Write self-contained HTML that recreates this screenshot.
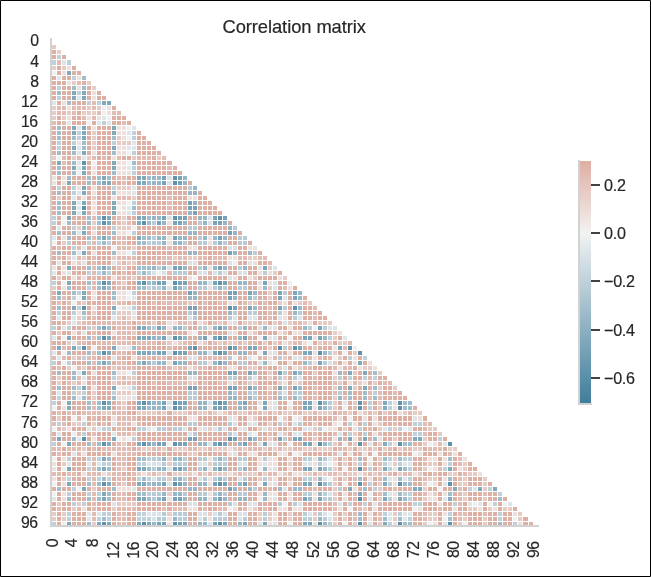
<!DOCTYPE html>
<html lang="en">
<head>
<meta charset="utf-8">
<title>Correlation matrix</title>
<style>
html,body{margin:0;padding:0;background:#fff;}
body{width:651px;height:577px;overflow:hidden;}
svg{display:block;}
text{font-family:"Liberation Sans",Arial,Helvetica,sans-serif;fill:#262626;stroke:#262626;stroke-width:0.18px;stroke-linejoin:round;}
.tick text{font-size:16.67px;letter-spacing:-0.5px;}
.title{font-size:18.33px;letter-spacing:-0.07px;}
</style>
</head>
<body>
<svg width="651" height="577" viewBox="0 0 651 577">
<defs>
<linearGradient id="cbg" x1="0" y1="0" x2="0" y2="1">
<stop offset="0.0000" stop-color="#deafa3"/>
<stop offset="0.0250" stop-color="#e0b4a9"/>
<stop offset="0.0500" stop-color="#e2bab0"/>
<stop offset="0.0750" stop-color="#e3c0b7"/>
<stop offset="0.1000" stop-color="#e5c5bd"/>
<stop offset="0.1250" stop-color="#e7cbc4"/>
<stop offset="0.1500" stop-color="#e8d0ca"/>
<stop offset="0.1750" stop-color="#ead6d1"/>
<stop offset="0.2000" stop-color="#ecdbd7"/>
<stop offset="0.2250" stop-color="#eee1de"/>
<stop offset="0.2500" stop-color="#efe7e5"/>
<stop offset="0.2750" stop-color="#f1eceb"/>
<stop offset="0.3000" stop-color="#f1f2f2"/>
<stop offset="0.3250" stop-color="#eaeef0"/>
<stop offset="0.3500" stop-color="#e3e9ec"/>
<stop offset="0.3750" stop-color="#dee6ea"/>
<stop offset="0.4000" stop-color="#d7e1e6"/>
<stop offset="0.4250" stop-color="#d1dde4"/>
<stop offset="0.4500" stop-color="#cbd9e0"/>
<stop offset="0.4750" stop-color="#c4d4dd"/>
<stop offset="0.5000" stop-color="#bed1da"/>
<stop offset="0.5250" stop-color="#b7ccd7"/>
<stop offset="0.5500" stop-color="#b2c9d4"/>
<stop offset="0.5750" stop-color="#abc4d0"/>
<stop offset="0.6000" stop-color="#a5c1ce"/>
<stop offset="0.6250" stop-color="#9ebcca"/>
<stop offset="0.6500" stop-color="#97b7c7"/>
<stop offset="0.6750" stop-color="#91b3c4"/>
<stop offset="0.7000" stop-color="#8aafc0"/>
<stop offset="0.7250" stop-color="#85abbe"/>
<stop offset="0.7500" stop-color="#7ea7ba"/>
<stop offset="0.7750" stop-color="#79a3b8"/>
<stop offset="0.8000" stop-color="#729fb4"/>
<stop offset="0.8250" stop-color="#6b9ab1"/>
<stop offset="0.8500" stop-color="#6596ae"/>
<stop offset="0.8750" stop-color="#5e92ab"/>
<stop offset="0.9000" stop-color="#598ea8"/>
<stop offset="0.9250" stop-color="#528aa5"/>
<stop offset="0.9500" stop-color="#4c86a2"/>
<stop offset="0.9750" stop-color="#46829e"/>
<stop offset="1.0000" stop-color="#407e9c"/>
</linearGradient>
</defs>
<rect x="0" y="0" width="651" height="577" fill="#fff"/>
<text class="title" x="294.2" y="33.0" text-anchor="middle">Correlation matrix</text>
<g shape-rendering="crispEdges">
<path fill="#e7ccc6" d="M52 45h4v4h-4zM57 50h4v4h-4zM52 66h4v4h-4zM62 66h4v4h-4zM72 81h4v4h-4zM87 81h4v4h-4zM92 86h4v4h-4zM52 106h4v4h-4zM87 106h4v4h-4zM97 106h4v4h-4zM52 111h4v4h-4zM67 111h4v4h-4zM82 111h4v4h-4zM87 111h4v4h-4zM92 111h4v4h-4zM52 116h4v4h-4zM62 116h4v4h-4zM92 131h4v4h-4zM92 136h4v4h-4zM117 136h4v4h-4zM92 141h4v4h-4zM117 141h4v4h-4zM122 141h4v4h-4zM127 141h4v4h-4zM92 146h4v4h-4zM52 156h4v4h-4zM72 156h4v4h-4zM87 156h4v4h-4zM132 156h4v4h-4zM157 156h4v4h-4zM117 186h4v4h-4zM122 186h4v4h-4zM127 186h4v4h-4zM57 196h4v4h-4zM92 196h4v4h-4zM132 196h4v4h-4zM122 216h4v4h-4zM92 221h4v4h-4zM122 221h4v4h-4zM77 226h4v4h-4zM92 226h4v4h-4zM117 226h4v4h-4zM122 226h4v4h-4zM127 226h4v4h-4zM62 241h4v4h-4zM132 246h4v4h-4zM67 256h4v4h-4zM82 256h4v4h-4zM112 256h4v4h-4zM173 256h4v4h-4zM188 256h4v4h-4zM193 256h4v4h-4zM248 256h4v4h-4zM253 256h4v4h-4zM77 261h4v4h-4zM117 261h4v4h-4zM127 261h4v4h-4zM132 261h4v4h-4zM122 266h4v4h-4zM268 266h4v4h-4zM273 271h4v4h-4zM57 276h4v4h-4zM132 276h4v4h-4zM253 276h4v4h-4zM283 276h4v4h-4zM122 281h4v4h-4zM52 286h4v4h-4zM268 286h4v4h-4zM268 291h4v4h-4zM268 296h4v4h-4zM82 301h4v4h-4zM112 301h4v4h-4zM188 301h4v4h-4zM193 301h4v4h-4zM248 301h4v4h-4zM253 301h4v4h-4zM278 301h4v4h-4zM298 301h4v4h-4zM308 301h4v4h-4zM92 311h4v4h-4zM117 311h4v4h-4zM122 311h4v4h-4zM127 311h4v4h-4zM77 316h4v4h-4zM117 316h4v4h-4zM127 316h4v4h-4zM67 321h4v4h-4zM77 321h4v4h-4zM152 321h4v4h-4zM188 321h4v4h-4zM203 321h4v4h-4zM218 321h4v4h-4zM243 321h4v4h-4zM248 321h4v4h-4zM253 321h4v4h-4zM263 321h4v4h-4zM273 321h4v4h-4zM288 321h4v4h-4zM303 321h4v4h-4zM318 321h4v4h-4zM323 321h4v4h-4zM328 321h4v4h-4zM92 326h4v4h-4zM57 331h4v4h-4zM132 331h4v4h-4zM253 331h4v4h-4zM283 331h4v4h-4zM333 331h4v4h-4zM333 336h4v4h-4zM67 341h4v4h-4zM167 341h5v4h-5zM178 341h4v4h-4zM203 341h4v4h-4zM218 341h4v4h-4zM228 341h4v4h-4zM233 341h4v4h-4zM243 341h4v4h-4zM263 341h4v4h-4zM273 341h4v4h-4zM288 341h4v4h-4zM318 341h4v4h-4zM328 341h4v4h-4zM338 341h4v4h-4zM343 341h4v4h-4zM268 346h4v4h-4zM313 346h4v4h-4zM333 351h4v4h-4zM353 351h4v4h-4zM72 356h4v4h-4zM283 356h4v4h-4zM338 356h4v4h-4zM333 361h4v4h-4zM67 366h4v4h-4zM82 366h4v4h-4zM112 366h4v4h-4zM173 366h4v4h-4zM193 366h4v4h-4zM248 366h4v4h-4zM253 366h4v4h-4zM278 366h4v4h-4zM298 366h4v4h-4zM363 366h4v4h-4zM368 366h4v4h-4zM268 371h4v4h-4zM313 371h4v4h-4zM353 371h4v4h-4zM378 371h4v4h-4zM57 376h4v4h-4zM117 376h4v4h-4zM127 376h4v4h-4zM132 376h4v4h-4zM268 376h4v4h-4zM283 376h4v4h-4zM333 376h4v4h-4zM57 381h4v4h-4zM72 381h4v4h-4zM112 381h4v4h-4zM188 381h4v4h-4zM193 381h4v4h-4zM233 381h4v4h-4zM248 381h4v4h-4zM253 381h4v4h-4zM278 381h4v4h-4zM298 381h4v4h-4zM338 381h4v4h-4zM358 381h4v4h-4zM373 381h4v4h-4zM268 386h4v4h-4zM333 386h4v4h-4zM353 386h4v4h-4zM378 386h4v4h-4zM393 386h4v4h-4zM77 391h4v4h-4zM92 391h4v4h-4zM117 391h4v4h-4zM122 391h4v4h-4zM127 391h4v4h-4zM92 396h4v4h-4zM333 396h4v4h-4zM122 401h4v4h-4zM333 401h4v4h-4zM353 401h4v4h-4zM378 401h4v4h-4zM122 406h4v4h-4zM333 406h4v4h-4zM378 406h4v4h-4zM102 411h4v4h-4zM107 411h4v4h-4zM137 411h4v4h-4zM142 411h4v4h-4zM147 411h4v4h-4zM152 411h4v4h-4zM162 411h4v4h-4zM173 411h4v4h-4zM178 411h4v4h-4zM183 411h4v4h-4zM198 411h4v4h-4zM203 411h4v4h-4zM213 411h4v4h-4zM223 411h4v4h-4zM238 411h4v4h-4zM243 411h4v4h-4zM263 411h4v4h-4zM273 411h4v4h-4zM283 411h4v4h-4zM288 411h4v4h-4zM303 411h4v4h-4zM308 411h4v4h-4zM318 411h4v4h-4zM323 411h4v4h-4zM328 411h4v4h-4zM348 411h4v4h-4zM363 411h4v4h-4zM373 411h4v4h-4zM383 411h4v4h-4zM403 411h4v4h-4zM413 411h4v4h-4zM418 411h4v4h-4zM57 416h4v5h-4zM253 416h4v5h-4zM283 416h4v5h-4zM72 422h4v4h-4zM77 422h4v4h-4zM92 422h4v4h-4zM268 422h4v4h-4zM283 422h4v4h-4zM313 422h4v4h-4zM378 422h4v4h-4zM62 427h4v4h-4zM92 427h4v4h-4zM208 427h4v4h-4zM258 427h4v4h-4zM268 427h4v4h-4zM273 427h4v4h-4zM288 427h4v4h-4zM313 427h4v4h-4zM343 427h4v4h-4zM378 427h4v4h-4zM393 427h4v4h-4zM428 427h4v4h-4zM433 427h4v4h-4zM132 432h4v4h-4zM283 432h4v4h-4zM353 432h4v4h-4zM438 432h4v4h-4zM268 437h4v4h-4zM313 437h4v4h-4zM393 437h4v4h-4zM423 437h4v4h-4zM122 442h4v4h-4zM333 442h4v4h-4zM353 442h4v4h-4zM378 442h4v4h-4zM423 442h4v4h-4zM82 447h4v4h-4zM142 447h4v4h-4zM147 447h4v4h-4zM162 447h4v4h-4zM173 447h4v4h-4zM178 447h4v4h-4zM183 447h4v4h-4zM198 447h4v4h-4zM203 447h4v4h-4zM213 447h4v4h-4zM218 447h4v4h-4zM223 447h4v4h-4zM233 447h4v4h-4zM243 447h4v4h-4zM263 447h4v4h-4zM273 447h4v4h-4zM283 447h4v4h-4zM288 447h4v4h-4zM303 447h4v4h-4zM308 447h4v4h-4zM318 447h4v4h-4zM323 447h4v4h-4zM328 447h4v4h-4zM348 447h4v4h-4zM358 447h4v4h-4zM363 447h4v4h-4zM373 447h4v4h-4zM383 447h4v4h-4zM398 447h4v4h-4zM413 447h4v4h-4zM418 447h4v4h-4zM448 447h4v4h-4zM453 447h4v4h-4zM188 452h4v4h-4zM193 452h4v4h-4zM167 457h5v4h-5zM333 457h4v4h-4zM343 457h4v4h-4zM353 457h4v4h-4zM378 457h4v4h-4zM393 457h4v4h-4zM62 462h4v4h-4zM167 462h5v4h-5zM208 462h4v4h-4zM288 462h4v4h-4zM343 462h4v4h-4zM353 462h4v4h-4zM393 462h4v4h-4zM428 462h4v4h-4zM433 462h4v4h-4zM463 462h4v4h-4zM122 467h4v4h-4zM333 467h4v4h-4zM378 467h4v4h-4zM423 467h4v4h-4zM463 467h4v4h-4zM107 472h4v4h-4zM137 472h4v4h-4zM147 472h4v4h-4zM157 472h4v4h-4zM162 472h4v4h-4zM173 472h4v4h-4zM178 472h4v4h-4zM183 472h4v4h-4zM188 472h4v4h-4zM203 472h4v4h-4zM213 472h4v4h-4zM218 472h4v4h-4zM223 472h4v4h-4zM233 472h4v4h-4zM243 472h4v4h-4zM248 472h4v4h-4zM253 472h4v4h-4zM263 472h4v4h-4zM283 472h4v4h-4zM303 472h4v4h-4zM308 472h4v4h-4zM318 472h4v4h-4zM323 472h4v4h-4zM338 472h4v4h-4zM348 472h4v4h-4zM353 472h4v4h-4zM363 472h4v4h-4zM373 472h4v4h-4zM383 472h4v4h-4zM398 472h4v4h-4zM418 472h4v4h-4zM448 472h4v4h-4zM453 472h4v4h-4zM468 472h4v4h-4zM473 472h4v4h-4zM62 477h4v4h-4zM167 477h5v4h-5zM258 477h4v4h-4zM268 477h4v4h-4zM288 477h4v4h-4zM313 477h4v4h-4zM333 477h4v4h-4zM343 477h4v4h-4zM428 477h4v4h-4zM433 477h4v4h-4zM463 477h4v4h-4zM483 477h4v4h-4zM122 482h4v4h-4zM333 482h4v4h-4zM378 482h4v4h-4zM423 482h4v4h-4zM458 482h4v4h-4zM463 482h4v4h-4zM483 482h4v4h-4zM92 487h4v4h-4zM333 487h4v4h-4zM378 487h4v4h-4zM423 487h4v4h-4zM483 487h4v4h-4zM167 492h5v4h-5zM333 492h4v4h-4zM433 492h4v4h-4zM463 492h4v4h-4zM333 497h4v4h-4zM378 497h4v4h-4zM423 497h4v4h-4zM463 497h4v4h-4zM483 497h4v4h-4zM57 502h4v4h-4zM77 502h4v4h-4zM117 502h4v4h-4zM122 502h4v4h-4zM127 502h4v4h-4zM132 502h4v4h-4zM72 507h4v4h-4zM112 507h4v4h-4zM253 507h4v4h-4zM363 507h4v4h-4zM468 507h4v4h-4zM473 507h4v4h-4zM488 507h4v4h-4zM503 507h4v4h-4zM508 507h4v4h-4zM52 512h4v4h-4zM62 512h4v4h-4zM167 512h5v4h-5zM208 512h4v4h-4zM258 512h4v4h-4zM268 512h4v4h-4zM288 512h4v4h-4zM313 512h4v4h-4zM333 512h4v4h-4zM343 512h4v4h-4zM393 512h4v4h-4zM428 512h4v4h-4zM433 512h4v4h-4zM518 512h4v4h-4zM52 517h4v4h-4zM62 517h4v4h-4zM258 517h4v4h-4zM268 517h4v4h-4zM288 517h4v4h-4zM313 517h4v4h-4zM333 517h4v4h-4zM343 517h4v4h-4zM393 517h4v4h-4zM428 517h4v4h-4zM433 517h4v4h-4zM463 517h4v4h-4zM483 517h4v4h-4zM518 517h4v4h-4zM92 522h4v3h-4zM333 522h4v3h-4zM353 522h4v3h-4zM378 522h4v3h-4zM423 522h4v3h-4zM458 522h4v3h-4zM483 522h4v3h-4z"/>
<path fill="#deafa3" d="M52 50h4v4h-4zM52 55h4v4h-4zM62 55h4v4h-4zM57 66h4v4h-4zM72 66h4v4h-4zM57 71h4v4h-4zM72 71h4v4h-4zM77 71h4v4h-4zM52 76h4v4h-4zM62 76h4v4h-4zM67 76h4v4h-4zM52 81h4v4h-4zM57 81h4v4h-4zM62 81h4v4h-4zM82 81h4v4h-4zM52 86h4v4h-4zM62 86h4v4h-4zM67 86h4v4h-4zM87 86h4v4h-4zM52 91h4v4h-4zM62 91h4v4h-4zM67 91h4v4h-4zM87 91h4v4h-4zM97 91h4v4h-4zM52 96h4v4h-4zM62 96h4v4h-4zM67 96h4v4h-4zM87 96h4v4h-4zM97 96h4v4h-4zM102 96h4v4h-4zM57 101h4v4h-4zM72 101h4v4h-4zM77 101h4v4h-4zM82 101h4v4h-4zM112 106h4v4h-4zM77 111h4v4h-4zM57 116h4v4h-4zM72 116h4v4h-4zM77 116h4v4h-4zM112 116h4v4h-4zM117 116h4v4h-4zM122 116h4v4h-4zM57 121h4v4h-4zM72 121h4v4h-4zM77 121h4v4h-4zM82 121h4v4h-4zM92 121h4v4h-4zM112 121h4v4h-4zM117 121h4v4h-4zM127 121h4v4h-4zM52 126h4v4h-4zM62 126h4v4h-4zM67 126h4v4h-4zM87 126h4v4h-4zM97 126h4v4h-4zM102 126h4v4h-4zM107 126h4v4h-4zM52 131h4v4h-4zM62 131h4v4h-4zM67 131h4v4h-4zM87 131h4v4h-4zM97 131h4v4h-4zM102 131h4v4h-4zM107 131h4v4h-4zM137 131h4v4h-4zM52 136h4v4h-4zM62 136h4v4h-4zM67 136h4v4h-4zM87 136h4v4h-4zM97 136h4v4h-4zM102 136h4v4h-4zM107 136h4v4h-4zM137 136h4v4h-4zM142 136h4v4h-4zM52 141h4v4h-4zM62 141h4v4h-4zM67 141h4v4h-4zM87 141h4v4h-4zM97 141h4v4h-4zM102 141h4v4h-4zM107 141h4v4h-4zM137 141h4v4h-4zM142 141h4v4h-4zM147 141h4v4h-4zM52 146h4v4h-4zM62 146h4v4h-4zM67 146h4v4h-4zM87 146h4v4h-4zM97 146h4v4h-4zM102 146h4v4h-4zM107 146h4v4h-4zM137 146h4v4h-4zM142 146h4v4h-4zM147 146h4v4h-4zM152 146h4v4h-4zM52 151h4v4h-4zM62 151h4v4h-4zM67 151h4v4h-4zM87 151h4v4h-4zM97 151h4v4h-4zM102 151h4v4h-4zM107 151h4v4h-4zM137 151h4v4h-4zM142 151h4v4h-4zM147 151h4v4h-4zM152 151h4v4h-4zM157 151h4v4h-4zM67 156h4v4h-4zM97 156h4v4h-4zM107 156h4v4h-4zM122 156h4v4h-4zM127 156h4v4h-4zM152 156h4v4h-4zM52 161h4v4h-4zM67 161h4v4h-4zM87 161h4v4h-4zM97 161h4v4h-4zM102 161h4v4h-4zM107 161h4v4h-4zM137 161h4v4h-4zM142 161h4v4h-4zM147 161h4v4h-4zM152 161h4v4h-4zM157 161h4v4h-4zM162 161h4v4h-4zM167 161h5v4h-5zM52 166h4v4h-4zM62 166h4v4h-4zM67 166h4v4h-4zM87 166h4v4h-4zM97 166h4v4h-4zM102 166h4v4h-4zM107 166h4v4h-4zM137 166h4v4h-4zM142 166h4v4h-4zM147 166h4v4h-4zM152 166h4v4h-4zM157 166h4v4h-4zM162 166h4v4h-4zM173 166h4v4h-4zM52 171h4v4h-4zM62 171h4v4h-4zM67 171h4v4h-4zM87 171h4v4h-4zM97 171h4v4h-4zM102 171h4v4h-4zM107 171h4v4h-4zM137 171h4v4h-4zM142 171h4v4h-4zM147 171h4v4h-4zM152 171h4v4h-4zM157 171h4v4h-4zM162 171h4v4h-4zM167 171h5v4h-5zM173 171h4v4h-4zM178 171h4v4h-4zM57 176h4v4h-4zM72 176h4v4h-4zM77 176h4v4h-4zM82 176h4v4h-4zM92 176h4v4h-4zM112 176h4v4h-4zM127 176h4v4h-4zM132 176h4v4h-4zM57 181h4v4h-4zM72 181h4v4h-4zM77 181h4v4h-4zM82 181h4v4h-4zM92 181h4v4h-4zM112 181h4v4h-4zM117 181h4v4h-4zM127 181h4v4h-4zM132 181h4v4h-4zM188 181h4v4h-4zM52 186h4v4h-4zM62 186h4v4h-4zM67 186h4v4h-4zM87 186h4v4h-4zM97 186h4v4h-4zM102 186h4v4h-4zM107 186h4v4h-4zM137 186h4v4h-4zM142 186h4v4h-4zM147 186h4v4h-4zM152 186h4v4h-4zM157 186h4v4h-4zM162 186h4v4h-4zM167 186h5v4h-5zM173 186h4v4h-4zM178 186h4v4h-4zM183 186h4v4h-4zM52 191h4v4h-4zM62 191h4v4h-4zM67 191h4v4h-4zM87 191h4v4h-4zM97 191h4v4h-4zM102 191h4v4h-4zM107 191h4v4h-4zM137 191h4v4h-4zM142 191h4v4h-4zM147 191h4v4h-4zM152 191h4v4h-4zM157 191h4v4h-4zM162 191h4v4h-4zM167 191h5v4h-5zM173 191h4v4h-4zM178 191h4v4h-4zM183 191h4v4h-4zM198 191h4v4h-4zM52 196h4v4h-4zM62 196h4v4h-4zM67 196h4v4h-4zM87 196h4v4h-4zM97 196h4v4h-4zM102 196h4v4h-4zM107 196h4v4h-4zM137 196h4v4h-4zM142 196h4v4h-4zM147 196h4v4h-4zM152 196h4v4h-4zM157 196h4v4h-4zM162 196h4v4h-4zM173 196h4v4h-4zM178 196h4v4h-4zM183 196h4v4h-4zM198 196h4v4h-4zM203 196h4v4h-4zM52 201h4v4h-4zM62 201h4v4h-4zM67 201h4v4h-4zM87 201h4v4h-4zM97 201h4v4h-4zM102 201h4v4h-4zM107 201h4v4h-4zM137 201h4v4h-4zM142 201h4v4h-4zM147 201h4v4h-4zM152 201h4v4h-4zM157 201h4v4h-4zM162 201h4v4h-4zM173 201h4v4h-4zM178 201h4v4h-4zM183 201h4v4h-4zM198 201h4v4h-4zM203 201h4v4h-4zM208 201h4v4h-4zM52 206h4v4h-4zM62 206h4v4h-4zM67 206h4v4h-4zM87 206h4v4h-4zM97 206h4v4h-4zM102 206h4v4h-4zM107 206h4v4h-4zM137 206h4v4h-4zM142 206h4v4h-4zM147 206h4v4h-4zM152 206h4v4h-4zM157 206h4v4h-4zM162 206h4v4h-4zM173 206h4v4h-4zM178 206h4v4h-4zM183 206h4v4h-4zM198 206h4v4h-4zM203 206h4v4h-4zM208 206h4v4h-4zM213 206h4v4h-4zM52 211h4v4h-4zM62 211h4v4h-4zM67 211h4v4h-4zM87 211h4v4h-4zM97 211h4v4h-4zM102 211h4v4h-4zM107 211h4v4h-4zM137 211h4v4h-4zM142 211h4v4h-4zM147 211h4v4h-4zM152 211h4v4h-4zM157 211h4v4h-4zM162 211h4v4h-4zM167 211h5v4h-5zM173 211h4v4h-4zM178 211h4v4h-4zM183 211h4v4h-4zM198 211h4v4h-4zM203 211h4v4h-4zM208 211h4v4h-4zM213 211h4v4h-4zM218 211h4v4h-4zM57 216h4v4h-4zM72 216h4v4h-4zM77 216h4v4h-4zM82 216h4v4h-4zM112 216h4v4h-4zM127 216h4v4h-4zM132 216h4v4h-4zM188 216h4v4h-4zM193 216h4v4h-4zM57 221h4v4h-4zM72 221h4v4h-4zM77 221h4v4h-4zM82 221h4v4h-4zM112 221h4v4h-4zM132 221h4v4h-4zM188 221h4v4h-4zM193 221h4v4h-4zM228 221h4v4h-4zM52 226h4v4h-4zM62 226h4v4h-4zM67 226h4v4h-4zM87 226h4v4h-4zM97 226h4v4h-4zM102 226h4v4h-4zM107 226h4v4h-4zM137 226h4v4h-4zM142 226h4v4h-4zM147 226h4v4h-4zM152 226h4v4h-4zM157 226h4v4h-4zM162 226h4v4h-4zM167 226h5v4h-5zM173 226h4v4h-4zM178 226h4v4h-4zM183 226h4v4h-4zM198 226h4v4h-4zM203 226h4v4h-4zM208 226h4v4h-4zM213 226h4v4h-4zM218 226h4v4h-4zM223 226h4v4h-4zM52 231h4v4h-4zM62 231h4v4h-4zM67 231h4v4h-4zM87 231h4v4h-4zM97 231h4v4h-4zM102 231h4v4h-4zM107 231h4v4h-4zM137 231h4v4h-4zM142 231h4v4h-4zM147 231h4v4h-4zM152 231h4v4h-4zM157 231h4v4h-4zM162 231h4v4h-4zM167 231h5v4h-5zM173 231h4v4h-4zM178 231h4v4h-4zM183 231h4v4h-4zM198 231h4v4h-4zM203 231h4v4h-4zM208 231h4v4h-4zM213 231h4v4h-4zM218 231h4v4h-4zM223 231h4v4h-4zM238 231h4v4h-4zM57 236h4v4h-4zM72 236h4v4h-4zM77 236h4v4h-4zM82 236h4v4h-4zM112 236h4v4h-4zM127 236h4v4h-4zM132 236h4v4h-4zM188 236h4v4h-4zM193 236h4v4h-4zM228 236h4v4h-4zM233 236h4v4h-4zM57 241h4v4h-4zM72 241h4v4h-4zM77 241h4v4h-4zM82 241h4v4h-4zM112 241h4v4h-4zM127 241h4v4h-4zM132 241h4v4h-4zM188 241h4v4h-4zM193 241h4v4h-4zM228 241h4v4h-4zM233 241h4v4h-4zM248 241h4v4h-4zM52 246h4v4h-4zM62 246h4v4h-4zM67 246h4v4h-4zM87 246h4v4h-4zM97 246h4v4h-4zM102 246h4v4h-4zM107 246h4v4h-4zM137 246h4v4h-4zM142 246h4v4h-4zM147 246h4v4h-4zM152 246h4v4h-4zM157 246h4v4h-4zM162 246h4v4h-4zM173 246h4v4h-4zM178 246h4v4h-4zM183 246h4v4h-4zM198 246h4v4h-4zM203 246h4v4h-4zM208 246h4v4h-4zM213 246h4v4h-4zM218 246h4v4h-4zM223 246h4v4h-4zM238 246h4v4h-4zM243 246h4v4h-4zM52 251h4v4h-4zM62 251h4v4h-4zM67 251h4v4h-4zM87 251h4v4h-4zM97 251h4v4h-4zM102 251h4v4h-4zM107 251h4v4h-4zM137 251h4v4h-4zM142 251h4v4h-4zM147 251h4v4h-4zM152 251h4v4h-4zM157 251h4v4h-4zM162 251h4v4h-4zM167 251h5v4h-5zM173 251h4v4h-4zM178 251h4v4h-4zM183 251h4v4h-4zM198 251h4v4h-4zM203 251h4v4h-4zM208 251h4v4h-4zM213 251h4v4h-4zM218 251h4v4h-4zM223 251h4v4h-4zM238 251h4v4h-4zM243 251h4v4h-4zM258 251h4v4h-4zM52 256h4v4h-4zM62 256h4v4h-4zM87 256h4v4h-4zM97 256h4v4h-4zM102 256h4v4h-4zM107 256h4v4h-4zM137 256h4v4h-4zM142 256h4v4h-4zM147 256h4v4h-4zM152 256h4v4h-4zM157 256h4v4h-4zM208 256h4v4h-4zM52 261h4v4h-4zM62 261h4v4h-4zM67 261h4v4h-4zM87 261h4v4h-4zM97 261h4v4h-4zM102 261h4v4h-4zM107 261h4v4h-4zM137 261h4v4h-4zM142 261h4v4h-4zM147 261h4v4h-4zM152 261h4v4h-4zM157 261h4v4h-4zM162 261h4v4h-4zM167 261h5v4h-5zM173 261h4v4h-4zM178 261h4v4h-4zM183 261h4v4h-4zM198 261h4v4h-4zM203 261h4v4h-4zM208 261h4v4h-4zM213 261h4v4h-4zM218 261h4v4h-4zM223 261h4v4h-4zM238 261h4v4h-4zM243 261h4v4h-4zM258 261h4v4h-4zM263 261h4v4h-4zM57 266h4v4h-4zM72 266h4v4h-4zM77 266h4v4h-4zM82 266h4v4h-4zM112 266h4v4h-4zM127 266h4v4h-4zM132 266h4v4h-4zM188 266h4v4h-4zM193 266h4v4h-4zM228 266h4v4h-4zM233 266h4v4h-4zM248 266h4v4h-4zM253 266h4v4h-4zM57 271h4v4h-4zM72 271h4v4h-4zM77 271h4v4h-4zM82 271h4v4h-4zM112 271h4v4h-4zM117 271h4v4h-4zM127 271h4v4h-4zM132 271h4v4h-4zM188 271h4v4h-4zM193 271h4v4h-4zM228 271h4v4h-4zM233 271h4v4h-4zM248 271h4v4h-4zM253 271h4v4h-4zM278 271h4v4h-4zM52 276h4v4h-4zM62 276h4v4h-4zM67 276h4v4h-4zM87 276h4v4h-4zM97 276h4v4h-4zM102 276h4v4h-4zM107 276h4v4h-4zM137 276h4v4h-4zM142 276h4v4h-4zM147 276h4v4h-4zM152 276h4v4h-4zM157 276h4v4h-4zM162 276h4v4h-4zM167 276h5v4h-5zM173 276h4v4h-4zM178 276h4v4h-4zM183 276h4v4h-4zM198 276h4v4h-4zM203 276h4v4h-4zM208 276h4v4h-4zM213 276h4v4h-4zM218 276h4v4h-4zM223 276h4v4h-4zM238 276h4v4h-4zM243 276h4v4h-4zM258 276h4v4h-4zM263 276h4v4h-4zM268 276h4v4h-4zM273 276h4v4h-4zM57 281h4v4h-4zM72 281h4v4h-4zM77 281h4v4h-4zM82 281h4v4h-4zM112 281h4v4h-4zM127 281h4v4h-4zM132 281h4v4h-4zM188 281h4v4h-4zM193 281h4v4h-4zM228 281h4v4h-4zM233 281h4v4h-4zM248 281h4v4h-4zM253 281h4v4h-4zM278 281h4v4h-4zM283 281h4v4h-4zM57 286h4v4h-4zM72 286h4v4h-4zM77 286h4v4h-4zM82 286h4v4h-4zM112 286h4v4h-4zM127 286h4v4h-4zM132 286h4v4h-4zM188 286h4v4h-4zM193 286h4v4h-4zM228 286h4v4h-4zM233 286h4v4h-4zM248 286h4v4h-4zM253 286h4v4h-4zM278 286h4v4h-4zM293 286h4v4h-4zM52 291h4v4h-4zM62 291h4v4h-4zM67 291h4v4h-4zM87 291h4v4h-4zM97 291h4v4h-4zM102 291h4v4h-4zM107 291h4v4h-4zM137 291h4v4h-4zM142 291h4v4h-4zM147 291h4v4h-4zM152 291h4v4h-4zM157 291h4v4h-4zM162 291h4v4h-4zM167 291h5v4h-5zM173 291h4v4h-4zM178 291h4v4h-4zM183 291h4v4h-4zM198 291h4v4h-4zM203 291h4v4h-4zM208 291h4v4h-4zM213 291h4v4h-4zM218 291h4v4h-4zM223 291h4v4h-4zM238 291h4v4h-4zM243 291h4v4h-4zM258 291h4v4h-4zM263 291h4v4h-4zM273 291h4v4h-4zM288 291h4v4h-4zM52 296h4v4h-4zM67 296h4v4h-4zM87 296h4v4h-4zM97 296h4v4h-4zM102 296h4v4h-4zM107 296h4v4h-4zM137 296h4v4h-4zM142 296h4v4h-4zM147 296h4v4h-4zM152 296h4v4h-4zM157 296h4v4h-4zM162 296h4v4h-4zM167 296h5v4h-5zM173 296h4v4h-4zM178 296h4v4h-4zM183 296h4v4h-4zM198 296h4v4h-4zM203 296h4v4h-4zM208 296h4v4h-4zM213 296h4v4h-4zM218 296h4v4h-4zM223 296h4v4h-4zM238 296h4v4h-4zM243 296h4v4h-4zM258 296h4v4h-4zM263 296h4v4h-4zM273 296h4v4h-4zM288 296h4v4h-4zM303 296h4v4h-4zM52 301h4v4h-4zM62 301h4v4h-4zM87 301h4v4h-4zM92 301h4v4h-4zM97 301h4v4h-4zM102 301h4v4h-4zM107 301h4v4h-4zM127 301h4v4h-4zM137 301h4v4h-4zM142 301h4v4h-4zM147 301h4v4h-4zM157 301h4v4h-4zM198 301h4v4h-4zM208 301h4v4h-4zM213 301h4v4h-4zM238 301h4v4h-4zM258 301h4v4h-4zM268 301h4v4h-4zM273 301h4v4h-4zM288 301h4v4h-4zM52 306h4v4h-4zM62 306h4v4h-4zM67 306h4v4h-4zM87 306h4v4h-4zM97 306h4v4h-4zM102 306h4v4h-4zM107 306h4v4h-4zM137 306h4v4h-4zM142 306h4v4h-4zM147 306h4v4h-4zM152 306h4v4h-4zM157 306h4v4h-4zM162 306h4v4h-4zM167 306h5v4h-5zM173 306h4v4h-4zM178 306h4v4h-4zM183 306h4v4h-4zM198 306h4v4h-4zM203 306h4v4h-4zM208 306h4v4h-4zM213 306h4v4h-4zM218 306h4v4h-4zM223 306h4v4h-4zM238 306h4v4h-4zM243 306h4v4h-4zM258 306h4v4h-4zM263 306h4v4h-4zM273 306h4v4h-4zM288 306h4v4h-4zM303 306h4v4h-4zM308 306h4v4h-4zM52 311h4v4h-4zM62 311h4v4h-4zM67 311h4v4h-4zM87 311h4v4h-4zM97 311h4v4h-4zM102 311h4v4h-4zM107 311h4v4h-4zM137 311h4v4h-4zM142 311h4v4h-4zM147 311h4v4h-4zM152 311h4v4h-4zM157 311h4v4h-4zM162 311h4v4h-4zM167 311h5v4h-5zM173 311h4v4h-4zM178 311h4v4h-4zM183 311h4v4h-4zM198 311h4v4h-4zM203 311h4v4h-4zM208 311h4v4h-4zM213 311h4v4h-4zM218 311h4v4h-4zM223 311h4v4h-4zM238 311h4v4h-4zM243 311h4v4h-4zM258 311h4v4h-4zM263 311h4v4h-4zM273 311h4v4h-4zM288 311h4v4h-4zM303 311h4v4h-4zM308 311h4v4h-4zM318 311h4v4h-4zM52 316h4v4h-4zM62 316h4v4h-4zM67 316h4v4h-4zM87 316h4v4h-4zM97 316h4v4h-4zM102 316h4v4h-4zM107 316h4v4h-4zM137 316h4v4h-4zM142 316h4v4h-4zM147 316h4v4h-4zM152 316h4v4h-4zM157 316h4v4h-4zM162 316h4v4h-4zM167 316h5v4h-5zM173 316h4v4h-4zM178 316h4v4h-4zM183 316h4v4h-4zM198 316h4v4h-4zM203 316h4v4h-4zM208 316h4v4h-4zM213 316h4v4h-4zM218 316h4v4h-4zM223 316h4v4h-4zM238 316h4v4h-4zM243 316h4v4h-4zM258 316h4v4h-4zM263 316h4v4h-4zM273 316h4v4h-4zM288 316h4v4h-4zM303 316h4v4h-4zM308 316h4v4h-4zM318 316h4v4h-4zM323 316h4v4h-4zM52 321h4v4h-4zM57 321h4v4h-4zM92 321h4v4h-4zM132 321h4v4h-4zM157 321h4v4h-4zM193 321h4v4h-4zM208 321h4v4h-4zM238 321h4v4h-4zM268 321h4v4h-4zM313 321h4v4h-4zM57 326h4v4h-4zM72 326h4v4h-4zM77 326h4v4h-4zM82 326h4v4h-4zM112 326h4v4h-4zM132 326h4v4h-4zM188 326h4v4h-4zM193 326h4v4h-4zM228 326h4v4h-4zM233 326h4v4h-4zM248 326h4v4h-4zM253 326h4v4h-4zM278 326h4v4h-4zM283 326h4v4h-4zM293 326h4v4h-4zM298 326h4v4h-4zM52 331h4v4h-4zM62 331h4v4h-4zM67 331h4v4h-4zM87 331h4v4h-4zM97 331h4v4h-4zM102 331h4v4h-4zM107 331h4v4h-4zM137 331h4v4h-4zM142 331h4v4h-4zM147 331h4v4h-4zM152 331h4v4h-4zM157 331h4v4h-4zM162 331h4v4h-4zM167 331h5v4h-5zM173 331h4v4h-4zM178 331h4v4h-4zM183 331h4v4h-4zM198 331h4v4h-4zM203 331h4v4h-4zM208 331h4v4h-4zM213 331h4v4h-4zM218 331h4v4h-4zM223 331h4v4h-4zM238 331h4v4h-4zM243 331h4v4h-4zM258 331h4v4h-4zM263 331h4v4h-4zM268 331h4v4h-4zM273 331h4v4h-4zM288 331h4v4h-4zM303 331h4v4h-4zM308 331h4v4h-4zM313 331h4v4h-4zM318 331h4v4h-4zM323 331h4v4h-4zM328 331h4v4h-4zM57 336h4v4h-4zM72 336h4v4h-4zM77 336h4v4h-4zM82 336h4v4h-4zM112 336h4v4h-4zM127 336h4v4h-4zM132 336h4v4h-4zM188 336h4v4h-4zM193 336h4v4h-4zM228 336h4v4h-4zM233 336h4v4h-4zM248 336h4v4h-4zM253 336h4v4h-4zM278 336h4v4h-4zM283 336h4v4h-4zM293 336h4v4h-4zM298 336h4v4h-4zM338 336h4v4h-4zM52 341h4v4h-4zM57 341h4v4h-4zM62 341h4v4h-4zM87 341h4v4h-4zM92 341h4v4h-4zM132 341h4v4h-4zM157 341h4v4h-4zM193 341h4v4h-4zM208 341h4v4h-4zM258 341h4v4h-4zM268 341h4v4h-4zM313 341h4v4h-4zM333 341h4v4h-4zM52 346h4v4h-4zM67 346h4v4h-4zM87 346h4v4h-4zM97 346h4v4h-4zM102 346h4v4h-4zM107 346h4v4h-4zM137 346h4v4h-4zM142 346h4v4h-4zM147 346h4v4h-4zM152 346h4v4h-4zM157 346h4v4h-4zM162 346h4v4h-4zM173 346h4v4h-4zM178 346h4v4h-4zM183 346h4v4h-4zM198 346h4v4h-4zM203 346h4v4h-4zM208 346h4v4h-4zM213 346h4v4h-4zM218 346h4v4h-4zM223 346h4v4h-4zM238 346h4v4h-4zM243 346h4v4h-4zM258 346h4v4h-4zM263 346h4v4h-4zM273 346h4v4h-4zM303 346h4v4h-4zM308 346h4v4h-4zM318 346h4v4h-4zM323 346h4v4h-4zM328 346h4v4h-4zM57 351h4v4h-4zM72 351h4v4h-4zM77 351h4v4h-4zM82 351h4v4h-4zM112 351h4v4h-4zM127 351h4v4h-4zM132 351h4v4h-4zM188 351h4v4h-4zM193 351h4v4h-4zM228 351h4v4h-4zM233 351h4v4h-4zM248 351h4v4h-4zM253 351h4v4h-4zM278 351h4v4h-4zM283 351h4v4h-4zM293 351h4v4h-4zM298 351h4v4h-4zM338 351h4v4h-4zM348 351h4v4h-4zM67 356h4v4h-4zM97 356h4v4h-4zM107 356h4v4h-4zM122 356h4v4h-4zM127 356h4v4h-4zM152 356h4v4h-4zM167 356h5v4h-5zM323 356h4v4h-4zM343 356h4v4h-4zM358 356h4v4h-4zM57 361h4v4h-4zM72 361h4v4h-4zM77 361h4v4h-4zM82 361h4v4h-4zM112 361h4v4h-4zM127 361h4v4h-4zM132 361h4v4h-4zM188 361h4v4h-4zM193 361h4v4h-4zM228 361h4v4h-4zM233 361h4v4h-4zM248 361h4v4h-4zM253 361h4v4h-4zM278 361h4v4h-4zM283 361h4v4h-4zM293 361h4v4h-4zM298 361h4v4h-4zM338 361h4v4h-4zM348 361h4v4h-4zM363 361h4v4h-4zM52 366h4v4h-4zM62 366h4v4h-4zM87 366h4v4h-4zM92 366h4v4h-4zM97 366h4v4h-4zM102 366h4v4h-4zM107 366h4v4h-4zM137 366h4v4h-4zM142 366h4v4h-4zM147 366h4v4h-4zM157 366h4v4h-4zM162 366h4v4h-4zM208 366h4v4h-4zM213 366h4v4h-4zM238 366h4v4h-4zM258 366h4v4h-4zM268 366h4v4h-4zM273 366h4v4h-4zM288 366h4v4h-4zM313 366h4v4h-4zM318 366h4v4h-4zM328 366h4v4h-4zM353 366h4v4h-4zM52 371h4v4h-4zM62 371h4v4h-4zM67 371h4v4h-4zM87 371h4v4h-4zM97 371h4v4h-4zM102 371h4v4h-4zM107 371h4v4h-4zM137 371h4v4h-4zM142 371h4v4h-4zM147 371h4v4h-4zM152 371h4v4h-4zM157 371h4v4h-4zM162 371h4v4h-4zM167 371h5v4h-5zM173 371h4v4h-4zM178 371h4v4h-4zM183 371h4v4h-4zM198 371h4v4h-4zM203 371h4v4h-4zM208 371h4v4h-4zM213 371h4v4h-4zM218 371h4v4h-4zM223 371h4v4h-4zM238 371h4v4h-4zM243 371h4v4h-4zM258 371h4v4h-4zM263 371h4v4h-4zM273 371h4v4h-4zM288 371h4v4h-4zM303 371h4v4h-4zM308 371h4v4h-4zM318 371h4v4h-4zM323 371h4v4h-4zM328 371h4v4h-4zM343 371h4v4h-4zM358 371h4v4h-4zM368 371h4v4h-4zM52 376h4v4h-4zM62 376h4v4h-4zM67 376h4v4h-4zM87 376h4v4h-4zM97 376h4v4h-4zM102 376h4v4h-4zM107 376h4v4h-4zM137 376h4v4h-4zM142 376h4v4h-4zM147 376h4v4h-4zM152 376h4v4h-4zM157 376h4v4h-4zM162 376h4v4h-4zM167 376h5v4h-5zM173 376h4v4h-4zM178 376h4v4h-4zM183 376h4v4h-4zM198 376h4v4h-4zM203 376h4v4h-4zM208 376h4v4h-4zM213 376h4v4h-4zM218 376h4v4h-4zM223 376h4v4h-4zM238 376h4v4h-4zM243 376h4v4h-4zM258 376h4v4h-4zM263 376h4v4h-4zM273 376h4v4h-4zM288 376h4v4h-4zM303 376h4v4h-4zM308 376h4v4h-4zM318 376h4v4h-4zM323 376h4v4h-4zM328 376h4v4h-4zM343 376h4v4h-4zM353 376h4v4h-4zM358 376h4v4h-4zM378 376h4v4h-4zM383 376h4v4h-4zM52 381h4v4h-4zM62 381h4v4h-4zM87 381h4v4h-4zM97 381h4v4h-4zM102 381h4v4h-4zM107 381h4v4h-4zM137 381h4v4h-4zM142 381h4v4h-4zM147 381h4v4h-4zM157 381h4v4h-4zM162 381h4v4h-4zM198 381h4v4h-4zM208 381h4v4h-4zM213 381h4v4h-4zM238 381h4v4h-4zM258 381h4v4h-4zM263 381h4v4h-4zM268 381h4v4h-4zM273 381h4v4h-4zM288 381h4v4h-4zM303 381h4v4h-4zM308 381h4v4h-4zM313 381h4v4h-4zM318 381h4v4h-4zM323 381h4v4h-4zM328 381h4v4h-4zM343 381h4v4h-4zM368 381h4v4h-4zM378 381h4v4h-4zM52 386h4v4h-4zM62 386h4v4h-4zM67 386h4v4h-4zM87 386h4v4h-4zM97 386h4v4h-4zM102 386h4v4h-4zM107 386h4v4h-4zM137 386h4v4h-4zM142 386h4v4h-4zM147 386h4v4h-4zM152 386h4v4h-4zM157 386h4v4h-4zM162 386h4v4h-4zM167 386h5v4h-5zM173 386h4v4h-4zM178 386h4v4h-4zM183 386h4v4h-4zM198 386h4v4h-4zM203 386h4v4h-4zM208 386h4v4h-4zM213 386h4v4h-4zM218 386h4v4h-4zM223 386h4v4h-4zM238 386h4v4h-4zM243 386h4v4h-4zM258 386h4v4h-4zM263 386h4v4h-4zM273 386h4v4h-4zM288 386h4v4h-4zM303 386h4v4h-4zM308 386h4v4h-4zM318 386h4v4h-4zM323 386h4v4h-4zM328 386h4v4h-4zM343 386h4v4h-4zM358 386h4v4h-4zM368 386h4v4h-4zM383 386h4v4h-4zM388 386h4v4h-4zM52 391h4v4h-4zM62 391h4v4h-4zM67 391h4v4h-4zM87 391h4v4h-4zM97 391h4v4h-4zM102 391h4v4h-4zM107 391h4v4h-4zM137 391h4v4h-4zM142 391h4v4h-4zM147 391h4v4h-4zM152 391h4v4h-4zM157 391h4v4h-4zM162 391h4v4h-4zM167 391h5v4h-5zM173 391h4v4h-4zM178 391h4v4h-4zM183 391h4v4h-4zM198 391h4v4h-4zM203 391h4v4h-4zM208 391h4v4h-4zM213 391h4v4h-4zM218 391h4v4h-4zM223 391h4v4h-4zM238 391h4v4h-4zM243 391h4v4h-4zM258 391h4v4h-4zM263 391h4v4h-4zM273 391h4v4h-4zM288 391h4v4h-4zM303 391h4v4h-4zM308 391h4v4h-4zM318 391h4v4h-4zM323 391h4v4h-4zM328 391h4v4h-4zM343 391h4v4h-4zM353 391h4v4h-4zM358 391h4v4h-4zM383 391h4v4h-4zM388 391h4v4h-4zM398 391h4v4h-4zM52 396h4v4h-4zM62 396h4v4h-4zM67 396h4v4h-4zM87 396h4v4h-4zM97 396h4v4h-4zM102 396h4v4h-4zM107 396h4v4h-4zM137 396h4v4h-4zM142 396h4v4h-4zM147 396h4v4h-4zM152 396h4v4h-4zM157 396h4v4h-4zM162 396h4v4h-4zM167 396h5v4h-5zM173 396h4v4h-4zM178 396h4v4h-4zM183 396h4v4h-4zM198 396h4v4h-4zM203 396h4v4h-4zM208 396h4v4h-4zM213 396h4v4h-4zM218 396h4v4h-4zM223 396h4v4h-4zM238 396h4v4h-4zM243 396h4v4h-4zM258 396h4v4h-4zM263 396h4v4h-4zM273 396h4v4h-4zM288 396h4v4h-4zM303 396h4v4h-4zM308 396h4v4h-4zM318 396h4v4h-4zM323 396h4v4h-4zM328 396h4v4h-4zM353 396h4v4h-4zM358 396h4v4h-4zM383 396h4v4h-4zM388 396h4v4h-4zM393 396h4v4h-4zM398 396h4v4h-4zM403 396h4v4h-4zM57 401h4v4h-4zM72 401h4v4h-4zM77 401h4v4h-4zM82 401h4v4h-4zM112 401h4v4h-4zM127 401h4v4h-4zM132 401h4v4h-4zM188 401h4v4h-4zM228 401h4v4h-4zM233 401h4v4h-4zM248 401h4v4h-4zM253 401h4v4h-4zM278 401h4v4h-4zM283 401h4v4h-4zM293 401h4v4h-4zM298 401h4v4h-4zM338 401h4v4h-4zM348 401h4v4h-4zM363 401h4v4h-4zM373 401h4v4h-4zM57 406h4v4h-4zM72 406h4v4h-4zM77 406h4v4h-4zM82 406h4v4h-4zM112 406h4v4h-4zM127 406h4v4h-4zM132 406h4v4h-4zM188 406h4v4h-4zM193 406h4v4h-4zM228 406h4v4h-4zM233 406h4v4h-4zM248 406h4v4h-4zM253 406h4v4h-4zM278 406h4v4h-4zM283 406h4v4h-4zM293 406h4v4h-4zM298 406h4v4h-4zM338 406h4v4h-4zM348 406h4v4h-4zM363 406h4v4h-4zM373 406h4v4h-4zM413 406h4v4h-4zM52 411h4v4h-4zM62 411h4v4h-4zM77 411h4v4h-4zM127 411h4v4h-4zM132 411h4v4h-4zM167 411h5v4h-5zM333 411h4v4h-4zM353 411h4v4h-4zM378 411h4v4h-4zM393 411h4v4h-4zM52 416h4v5h-4zM62 416h4v5h-4zM67 416h4v5h-4zM87 416h4v5h-4zM97 416h4v5h-4zM102 416h4v5h-4zM107 416h4v5h-4zM137 416h4v5h-4zM142 416h4v5h-4zM147 416h4v5h-4zM152 416h4v5h-4zM157 416h4v5h-4zM162 416h4v5h-4zM167 416h5v5h-5zM173 416h4v5h-4zM178 416h4v5h-4zM183 416h4v5h-4zM198 416h4v5h-4zM203 416h4v5h-4zM208 416h4v5h-4zM213 416h4v5h-4zM218 416h4v5h-4zM223 416h4v5h-4zM238 416h4v5h-4zM243 416h4v5h-4zM258 416h4v5h-4zM263 416h4v5h-4zM268 416h4v5h-4zM273 416h4v5h-4zM288 416h4v5h-4zM303 416h4v5h-4zM308 416h4v5h-4zM313 416h4v5h-4zM318 416h4v5h-4zM323 416h4v5h-4zM328 416h4v5h-4zM343 416h4v5h-4zM353 416h4v5h-4zM358 416h4v5h-4zM368 416h4v5h-4zM378 416h4v5h-4zM383 416h4v5h-4zM388 416h4v5h-4zM393 416h4v5h-4zM398 416h4v5h-4zM403 416h4v5h-4zM408 416h4v5h-4zM423 416h4v5h-4zM67 422h4v4h-4zM87 422h4v4h-4zM97 422h4v4h-4zM107 422h4v4h-4zM142 422h4v4h-4zM147 422h4v4h-4zM152 422h4v4h-4zM157 422h4v4h-4zM162 422h4v4h-4zM167 422h5v4h-5zM173 422h4v4h-4zM178 422h4v4h-4zM183 422h4v4h-4zM198 422h4v4h-4zM203 422h4v4h-4zM208 422h4v4h-4zM213 422h4v4h-4zM218 422h4v4h-4zM223 422h4v4h-4zM238 422h4v4h-4zM243 422h4v4h-4zM258 422h4v4h-4zM263 422h4v4h-4zM273 422h4v4h-4zM288 422h4v4h-4zM303 422h4v4h-4zM308 422h4v4h-4zM318 422h4v4h-4zM323 422h4v4h-4zM328 422h4v4h-4zM343 422h4v4h-4zM358 422h4v4h-4zM368 422h4v4h-4zM383 422h4v4h-4zM388 422h4v4h-4zM398 422h4v4h-4zM403 422h4v4h-4zM408 422h4v4h-4zM72 427h4v4h-4zM77 427h4v4h-4zM82 427h4v4h-4zM112 427h4v4h-4zM127 427h4v4h-4zM132 427h4v4h-4zM188 427h4v4h-4zM193 427h4v4h-4zM228 427h4v4h-4zM233 427h4v4h-4zM248 427h4v4h-4zM253 427h4v4h-4zM278 427h4v4h-4zM283 427h4v4h-4zM293 427h4v4h-4zM298 427h4v4h-4zM338 427h4v4h-4zM348 427h4v4h-4zM363 427h4v4h-4zM373 427h4v4h-4zM413 427h4v4h-4zM418 427h4v4h-4zM52 432h4v4h-4zM62 432h4v4h-4zM67 432h4v4h-4zM87 432h4v4h-4zM97 432h4v4h-4zM102 432h4v4h-4zM107 432h4v4h-4zM137 432h4v4h-4zM142 432h4v4h-4zM147 432h4v4h-4zM152 432h4v4h-4zM157 432h4v4h-4zM162 432h4v4h-4zM167 432h5v4h-5zM173 432h4v4h-4zM178 432h4v4h-4zM183 432h4v4h-4zM198 432h4v4h-4zM203 432h4v4h-4zM208 432h4v4h-4zM213 432h4v4h-4zM218 432h4v4h-4zM223 432h4v4h-4zM238 432h4v4h-4zM243 432h4v4h-4zM258 432h4v4h-4zM263 432h4v4h-4zM273 432h4v4h-4zM288 432h4v4h-4zM303 432h4v4h-4zM308 432h4v4h-4zM318 432h4v4h-4zM323 432h4v4h-4zM328 432h4v4h-4zM343 432h4v4h-4zM358 432h4v4h-4zM368 432h4v4h-4zM383 432h4v4h-4zM388 432h4v4h-4zM393 432h4v4h-4zM398 432h4v4h-4zM403 432h4v4h-4zM408 432h4v4h-4zM428 432h4v4h-4zM433 432h4v4h-4zM52 437h4v4h-4zM62 437h4v4h-4zM67 437h4v4h-4zM87 437h4v4h-4zM97 437h4v4h-4zM102 437h4v4h-4zM107 437h4v4h-4zM137 437h4v4h-4zM142 437h4v4h-4zM147 437h4v4h-4zM152 437h4v4h-4zM157 437h4v4h-4zM162 437h4v4h-4zM167 437h5v4h-5zM173 437h4v4h-4zM178 437h4v4h-4zM183 437h4v4h-4zM198 437h4v4h-4zM203 437h4v4h-4zM208 437h4v4h-4zM213 437h4v4h-4zM218 437h4v4h-4zM223 437h4v4h-4zM238 437h4v4h-4zM243 437h4v4h-4zM258 437h4v4h-4zM263 437h4v4h-4zM273 437h4v4h-4zM288 437h4v4h-4zM303 437h4v4h-4zM308 437h4v4h-4zM318 437h4v4h-4zM323 437h4v4h-4zM328 437h4v4h-4zM343 437h4v4h-4zM358 437h4v4h-4zM368 437h4v4h-4zM383 437h4v4h-4zM388 437h4v4h-4zM398 437h4v4h-4zM403 437h4v4h-4zM408 437h4v4h-4zM428 437h4v4h-4zM433 437h4v4h-4zM443 437h4v4h-4zM57 442h4v4h-4zM72 442h4v4h-4zM77 442h4v4h-4zM82 442h4v4h-4zM112 442h4v4h-4zM127 442h4v4h-4zM132 442h4v4h-4zM188 442h4v4h-4zM193 442h4v4h-4zM228 442h4v4h-4zM233 442h4v4h-4zM248 442h4v4h-4zM253 442h4v4h-4zM278 442h4v4h-4zM283 442h4v4h-4zM293 442h4v4h-4zM298 442h4v4h-4zM338 442h4v4h-4zM348 442h4v4h-4zM363 442h4v4h-4zM373 442h4v4h-4zM413 442h4v4h-4zM418 442h4v4h-4zM62 447h4v4h-4zM87 447h4v4h-4zM97 447h4v4h-4zM132 447h4v4h-4zM167 447h5v4h-5zM333 447h4v4h-4zM353 447h4v4h-4zM378 447h4v4h-4zM393 447h4v4h-4zM423 447h4v4h-4zM443 447h4v4h-4zM52 452h4v4h-4zM62 452h4v4h-4zM67 452h4v4h-4zM87 452h4v4h-4zM92 452h4v4h-4zM97 452h4v4h-4zM102 452h4v4h-4zM107 452h4v4h-4zM137 452h4v4h-4zM142 452h4v4h-4zM147 452h4v4h-4zM152 452h4v4h-4zM157 452h4v4h-4zM162 452h4v4h-4zM167 452h5v4h-5zM173 452h4v4h-4zM178 452h4v4h-4zM183 452h4v4h-4zM198 452h4v4h-4zM203 452h4v4h-4zM208 452h4v4h-4zM213 452h4v4h-4zM218 452h4v4h-4zM223 452h4v4h-4zM238 452h4v4h-4zM243 452h4v4h-4zM258 452h4v4h-4zM263 452h4v4h-4zM268 452h4v4h-4zM273 452h4v4h-4zM288 452h4v4h-4zM303 452h4v4h-4zM308 452h4v4h-4zM313 452h4v4h-4zM318 452h4v4h-4zM323 452h4v4h-4zM328 452h4v4h-4zM343 452h4v4h-4zM353 452h4v4h-4zM358 452h4v4h-4zM368 452h4v4h-4zM378 452h4v4h-4zM383 452h4v4h-4zM388 452h4v4h-4zM393 452h4v4h-4zM398 452h4v4h-4zM403 452h4v4h-4zM408 452h4v4h-4zM423 452h4v4h-4zM428 452h4v4h-4zM433 452h4v4h-4zM443 452h4v4h-4zM458 452h4v4h-4zM57 457h4v4h-4zM72 457h4v4h-4zM77 457h4v4h-4zM82 457h4v4h-4zM112 457h4v4h-4zM127 457h4v4h-4zM132 457h4v4h-4zM188 457h4v4h-4zM193 457h4v4h-4zM228 457h4v4h-4zM233 457h4v4h-4zM248 457h4v4h-4zM253 457h4v4h-4zM278 457h4v4h-4zM283 457h4v4h-4zM293 457h4v4h-4zM298 457h4v4h-4zM338 457h4v4h-4zM348 457h4v4h-4zM363 457h4v4h-4zM373 457h4v4h-4zM413 457h4v4h-4zM418 457h4v4h-4zM438 457h4v4h-4zM453 457h4v4h-4zM57 462h4v4h-4zM72 462h4v4h-4zM77 462h4v4h-4zM82 462h4v4h-4zM112 462h4v4h-4zM127 462h4v4h-4zM132 462h4v4h-4zM188 462h4v4h-4zM193 462h4v4h-4zM228 462h4v4h-4zM233 462h4v4h-4zM248 462h4v4h-4zM253 462h4v4h-4zM278 462h4v4h-4zM283 462h4v4h-4zM293 462h4v4h-4zM298 462h4v4h-4zM338 462h4v4h-4zM348 462h4v4h-4zM363 462h4v4h-4zM373 462h4v4h-4zM413 462h4v4h-4zM418 462h4v4h-4zM438 462h4v4h-4zM453 462h4v4h-4zM468 462h4v4h-4zM57 467h4v4h-4zM72 467h4v4h-4zM77 467h4v4h-4zM82 467h4v4h-4zM112 467h4v4h-4zM127 467h4v4h-4zM132 467h4v4h-4zM188 467h4v4h-4zM193 467h4v4h-4zM228 467h4v4h-4zM233 467h4v4h-4zM248 467h4v4h-4zM253 467h4v4h-4zM278 467h4v4h-4zM283 467h4v4h-4zM293 467h4v4h-4zM298 467h4v4h-4zM338 467h4v4h-4zM348 467h4v4h-4zM363 467h4v4h-4zM373 467h4v4h-4zM413 467h4v4h-4zM418 467h4v4h-4zM453 467h4v4h-4zM468 467h4v4h-4zM473 467h4v4h-4zM62 472h4v4h-4zM77 472h4v4h-4zM122 472h4v4h-4zM127 472h4v4h-4zM167 472h5v4h-5zM258 472h4v4h-4zM393 472h4v4h-4zM423 472h4v4h-4zM428 472h4v4h-4zM438 472h4v4h-4zM443 472h4v4h-4zM458 472h4v4h-4zM57 477h4v4h-4zM72 477h4v4h-4zM77 477h4v4h-4zM82 477h4v4h-4zM112 477h4v4h-4zM127 477h4v4h-4zM132 477h4v4h-4zM188 477h4v4h-4zM193 477h4v4h-4zM228 477h4v4h-4zM233 477h4v4h-4zM248 477h4v4h-4zM253 477h4v4h-4zM278 477h4v4h-4zM283 477h4v4h-4zM293 477h4v4h-4zM298 477h4v4h-4zM338 477h4v4h-4zM348 477h4v4h-4zM363 477h4v4h-4zM373 477h4v4h-4zM413 477h4v4h-4zM418 477h4v4h-4zM438 477h4v4h-4zM453 477h4v4h-4zM468 477h4v4h-4zM473 477h4v4h-4zM478 477h4v4h-4zM57 482h4v4h-4zM72 482h4v4h-4zM77 482h4v4h-4zM82 482h4v4h-4zM112 482h4v4h-4zM127 482h4v4h-4zM132 482h4v4h-4zM188 482h4v4h-4zM193 482h4v4h-4zM228 482h4v4h-4zM233 482h4v4h-4zM248 482h4v4h-4zM253 482h4v4h-4zM278 482h4v4h-4zM283 482h4v4h-4zM293 482h4v4h-4zM298 482h4v4h-4zM338 482h4v4h-4zM348 482h4v4h-4zM363 482h4v4h-4zM373 482h4v4h-4zM413 482h4v4h-4zM418 482h4v4h-4zM438 482h4v4h-4zM453 482h4v4h-4zM468 482h4v4h-4zM473 482h4v4h-4zM478 482h4v4h-4zM488 482h4v4h-4zM52 487h4v4h-4zM62 487h4v4h-4zM67 487h4v4h-4zM87 487h4v4h-4zM97 487h4v4h-4zM102 487h4v4h-4zM107 487h4v4h-4zM137 487h4v4h-4zM142 487h4v4h-4zM147 487h4v4h-4zM152 487h4v4h-4zM157 487h4v4h-4zM162 487h4v4h-4zM167 487h5v4h-5zM173 487h4v4h-4zM178 487h4v4h-4zM183 487h4v4h-4zM198 487h4v4h-4zM203 487h4v4h-4zM208 487h4v4h-4zM213 487h4v4h-4zM218 487h4v4h-4zM223 487h4v4h-4zM238 487h4v4h-4zM243 487h4v4h-4zM258 487h4v4h-4zM263 487h4v4h-4zM273 487h4v4h-4zM288 487h4v4h-4zM303 487h4v4h-4zM308 487h4v4h-4zM318 487h4v4h-4zM323 487h4v4h-4zM328 487h4v4h-4zM343 487h4v4h-4zM358 487h4v4h-4zM368 487h4v4h-4zM383 487h4v4h-4zM388 487h4v4h-4zM398 487h4v4h-4zM403 487h4v4h-4zM408 487h4v4h-4zM428 487h4v4h-4zM433 487h4v4h-4zM443 487h4v4h-4zM448 487h4v4h-4zM463 487h4v4h-4zM57 492h4v4h-4zM72 492h4v4h-4zM77 492h4v4h-4zM82 492h4v4h-4zM112 492h4v4h-4zM127 492h4v4h-4zM132 492h4v4h-4zM188 492h4v4h-4zM193 492h4v4h-4zM228 492h4v4h-4zM233 492h4v4h-4zM248 492h4v4h-4zM253 492h4v4h-4zM278 492h4v4h-4zM283 492h4v4h-4zM293 492h4v4h-4zM298 492h4v4h-4zM338 492h4v4h-4zM348 492h4v4h-4zM363 492h4v4h-4zM373 492h4v4h-4zM413 492h4v4h-4zM418 492h4v4h-4zM438 492h4v4h-4zM453 492h4v4h-4zM468 492h4v4h-4zM473 492h4v4h-4zM478 492h4v4h-4zM488 492h4v4h-4zM493 492h4v4h-4zM57 497h4v4h-4zM72 497h4v4h-4zM77 497h4v4h-4zM82 497h4v4h-4zM112 497h4v4h-4zM127 497h4v4h-4zM132 497h4v4h-4zM188 497h4v4h-4zM193 497h4v4h-4zM228 497h4v4h-4zM233 497h4v4h-4zM248 497h4v4h-4zM253 497h4v4h-4zM278 497h4v4h-4zM283 497h4v4h-4zM293 497h4v4h-4zM298 497h4v4h-4zM338 497h4v4h-4zM348 497h4v4h-4zM363 497h4v4h-4zM373 497h4v4h-4zM413 497h4v4h-4zM418 497h4v4h-4zM438 497h4v4h-4zM453 497h4v4h-4zM468 497h4v4h-4zM473 497h4v4h-4zM478 497h4v4h-4zM488 497h4v4h-4zM493 497h4v4h-4zM503 497h4v4h-4zM52 502h4v4h-4zM62 502h4v4h-4zM67 502h4v4h-4zM87 502h4v4h-4zM97 502h4v4h-4zM102 502h4v4h-4zM107 502h4v4h-4zM137 502h4v4h-4zM142 502h4v4h-4zM147 502h4v4h-4zM152 502h4v4h-4zM157 502h4v4h-4zM162 502h4v4h-4zM167 502h5v4h-5zM173 502h4v4h-4zM178 502h4v4h-4zM183 502h4v4h-4zM198 502h4v4h-4zM203 502h4v4h-4zM208 502h4v4h-4zM213 502h4v4h-4zM218 502h4v4h-4zM223 502h4v4h-4zM238 502h4v4h-4zM243 502h4v4h-4zM258 502h4v4h-4zM263 502h4v4h-4zM268 502h4v4h-4zM273 502h4v4h-4zM288 502h4v4h-4zM303 502h4v4h-4zM308 502h4v4h-4zM313 502h4v4h-4zM318 502h4v4h-4zM323 502h4v4h-4zM328 502h4v4h-4zM343 502h4v4h-4zM353 502h4v4h-4zM358 502h4v4h-4zM368 502h4v4h-4zM383 502h4v4h-4zM388 502h4v4h-4zM393 502h4v4h-4zM398 502h4v4h-4zM403 502h4v4h-4zM408 502h4v4h-4zM423 502h4v4h-4zM428 502h4v4h-4zM433 502h4v4h-4zM443 502h4v4h-4zM448 502h4v4h-4zM463 502h4v4h-4zM483 502h4v4h-4zM498 502h4v4h-4zM52 507h4v4h-4zM62 507h4v4h-4zM67 507h4v4h-4zM87 507h4v4h-4zM97 507h4v4h-4zM102 507h4v4h-4zM107 507h4v4h-4zM137 507h4v4h-4zM142 507h4v4h-4zM147 507h4v4h-4zM152 507h4v4h-4zM157 507h4v4h-4zM167 507h5v4h-5zM198 507h4v4h-4zM208 507h4v4h-4zM213 507h4v4h-4zM238 507h4v4h-4zM258 507h4v4h-4zM268 507h4v4h-4zM273 507h4v4h-4zM288 507h4v4h-4zM303 507h4v4h-4zM308 507h4v4h-4zM313 507h4v4h-4zM318 507h4v4h-4zM323 507h4v4h-4zM328 507h4v4h-4zM343 507h4v4h-4zM353 507h4v4h-4zM368 507h4v4h-4zM378 507h4v4h-4zM383 507h4v4h-4zM388 507h4v4h-4zM393 507h4v4h-4zM398 507h4v4h-4zM403 507h4v4h-4zM408 507h4v4h-4zM423 507h4v4h-4zM428 507h4v4h-4zM433 507h4v4h-4zM443 507h4v4h-4zM448 507h4v4h-4zM458 507h4v4h-4zM463 507h4v4h-4zM483 507h4v4h-4zM498 507h4v4h-4zM513 507h4v4h-4zM57 512h4v4h-4zM72 512h4v4h-4zM77 512h4v4h-4zM82 512h4v4h-4zM112 512h4v4h-4zM127 512h4v4h-4zM132 512h4v4h-4zM188 512h4v4h-4zM193 512h4v4h-4zM228 512h4v4h-4zM233 512h4v4h-4zM248 512h4v4h-4zM253 512h4v4h-4zM278 512h4v4h-4zM283 512h4v4h-4zM293 512h4v4h-4zM298 512h4v4h-4zM338 512h4v4h-4zM348 512h4v4h-4zM363 512h4v4h-4zM373 512h4v4h-4zM413 512h4v4h-4zM418 512h4v4h-4zM438 512h4v4h-4zM453 512h4v4h-4zM468 512h4v4h-4zM473 512h4v4h-4zM478 512h4v4h-4zM488 512h4v4h-4zM493 512h4v4h-4zM503 512h4v4h-4zM508 512h4v4h-4zM57 517h4v4h-4zM72 517h4v4h-4zM77 517h4v4h-4zM82 517h4v4h-4zM112 517h4v4h-4zM127 517h4v4h-4zM132 517h4v4h-4zM188 517h4v4h-4zM193 517h4v4h-4zM228 517h4v4h-4zM233 517h4v4h-4zM248 517h4v4h-4zM253 517h4v4h-4zM278 517h4v4h-4zM283 517h4v4h-4zM293 517h4v4h-4zM298 517h4v4h-4zM338 517h4v4h-4zM348 517h4v4h-4zM363 517h4v4h-4zM373 517h4v4h-4zM413 517h4v4h-4zM418 517h4v4h-4zM438 517h4v4h-4zM453 517h4v4h-4zM468 517h4v4h-4zM473 517h4v4h-4zM478 517h4v4h-4zM488 517h4v4h-4zM493 517h4v4h-4zM503 517h4v4h-4zM508 517h4v4h-4zM523 517h5v4h-5zM57 522h4v3h-4zM72 522h4v3h-4zM77 522h4v3h-4zM82 522h4v3h-4zM112 522h4v3h-4zM127 522h4v3h-4zM132 522h4v3h-4zM188 522h4v3h-4zM193 522h4v3h-4zM228 522h4v3h-4zM233 522h4v3h-4zM248 522h4v3h-4zM253 522h4v3h-4zM278 522h4v3h-4zM283 522h4v3h-4zM293 522h4v3h-4zM298 522h4v3h-4zM338 522h4v3h-4zM348 522h4v3h-4zM363 522h4v3h-4zM373 522h4v3h-4zM413 522h4v3h-4zM418 522h4v3h-4zM438 522h4v3h-4zM453 522h4v3h-4zM468 522h4v3h-4zM473 522h4v3h-4zM478 522h4v3h-4zM488 522h4v3h-4zM493 522h4v3h-4zM503 522h4v3h-4zM508 522h4v3h-4zM523 522h5v3h-5zM529 522h4v3h-4z"/>
<path fill="#bed1da" d="M57 55h4v4h-4zM52 60h4v5h-4zM67 60h4v5h-4zM72 76h4v4h-4zM57 86h4v4h-4zM77 91h4v4h-4zM57 96h4v4h-4zM87 101h4v4h-4zM97 101h4v4h-4zM102 121h4v4h-4zM77 131h4v4h-4zM132 131h4v4h-4zM77 136h4v4h-4zM132 136h4v4h-4zM57 141h4v4h-4zM72 141h4v4h-4zM112 141h4v4h-4zM57 146h4v4h-4zM132 151h4v4h-4zM132 166h4v4h-4zM132 171h4v4h-4zM57 186h4v4h-4zM72 186h4v4h-4zM112 186h4v4h-4zM72 191h4v4h-4zM132 201h4v4h-4zM132 211h4v4h-4zM52 216h4v4h-4zM52 221h4v4h-4zM72 226h4v4h-4zM112 226h4v4h-4zM132 231h4v4h-4zM67 241h4v4h-4zM87 241h4v4h-4zM97 241h4v4h-4zM107 241h4v4h-4zM147 241h4v4h-4zM72 246h4v4h-4zM132 251h4v4h-4zM87 271h4v4h-4zM97 271h4v4h-4zM107 271h4v4h-4zM137 271h4v4h-4zM147 271h4v4h-4zM52 281h4v4h-4zM87 286h4v4h-4zM147 286h4v4h-4zM77 291h4v4h-4zM132 291h4v4h-4zM72 296h4v4h-4zM77 306h4v4h-4zM132 306h4v4h-4zM57 311h4v4h-4zM72 311h4v4h-4zM112 311h4v4h-4zM82 316h4v4h-4zM52 326h4v4h-4zM67 326h4v4h-4zM87 326h4v4h-4zM77 346h4v4h-4zM82 356h4v4h-4zM348 356h4v4h-4zM363 356h4v4h-4zM52 361h4v4h-4zM67 361h4v4h-4zM132 371h4v4h-4zM112 376h4v4h-4zM348 376h4v4h-4zM363 376h4v4h-4zM373 376h4v4h-4zM77 386h4v4h-4zM132 386h4v4h-4zM72 391h4v4h-4zM82 391h4v4h-4zM112 391h4v4h-4zM373 391h4v4h-4zM57 396h4v4h-4zM52 401h4v4h-4zM368 401h4v4h-4zM388 401h4v4h-4zM368 406h4v4h-4zM388 406h4v4h-4zM57 422h4v4h-4zM82 422h4v4h-4zM348 422h4v4h-4zM363 422h4v4h-4zM413 422h4v4h-4zM418 422h4v4h-4zM102 427h4v4h-4zM107 427h4v4h-4zM137 427h4v4h-4zM142 427h4v4h-4zM358 427h4v4h-4zM388 427h4v4h-4zM398 427h4v4h-4zM82 432h4v4h-4zM348 432h4v4h-4zM363 432h4v4h-4zM413 432h4v4h-4zM418 432h4v4h-4zM132 437h4v4h-4zM438 437h4v4h-4zM52 442h4v4h-4zM388 442h4v4h-4zM67 457h4v4h-4zM87 457h4v4h-4zM97 457h4v4h-4zM147 457h4v4h-4zM388 457h4v4h-4zM403 457h4v4h-4zM408 457h4v4h-4zM102 462h4v4h-4zM107 462h4v4h-4zM137 462h4v4h-4zM142 462h4v4h-4zM358 462h4v4h-4zM383 462h4v4h-4zM398 462h4v4h-4zM448 462h4v4h-4zM87 467h4v4h-4zM368 467h4v4h-4zM388 467h4v4h-4zM408 467h4v4h-4zM443 467h4v4h-4zM67 477h4v4h-4zM87 477h4v4h-4zM97 477h4v4h-4zM107 477h4v4h-4zM137 477h4v4h-4zM147 477h4v4h-4zM408 477h4v4h-4zM368 482h4v4h-4zM388 482h4v4h-4zM72 487h4v4h-4zM373 487h4v4h-4zM468 487h4v4h-4zM488 487h4v4h-4zM67 492h4v4h-4zM87 492h4v4h-4zM97 492h4v4h-4zM147 492h4v4h-4zM403 492h4v4h-4zM408 492h4v4h-4zM498 492h4v4h-4zM388 497h4v4h-4zM408 497h4v4h-4zM72 502h4v4h-4zM82 502h4v4h-4zM348 502h4v4h-4zM363 502h4v4h-4zM413 502h4v4h-4zM418 502h4v4h-4zM453 502h4v4h-4zM493 502h4v4h-4zM67 512h4v4h-4zM102 512h4v4h-4zM107 512h4v4h-4zM137 512h4v4h-4zM142 512h4v4h-4zM383 512h4v4h-4zM398 512h4v4h-4zM448 512h4v4h-4zM498 512h4v4h-4zM67 517h4v4h-4zM97 517h4v4h-4zM107 517h4v4h-4zM137 517h4v4h-4zM142 517h4v4h-4zM147 517h4v4h-4zM408 517h4v4h-4zM498 517h4v4h-4zM52 522h4v3h-4zM388 522h4v3h-4zM513 522h4v3h-4z"/>
<path fill="#e2bcb3" d="M57 60h4v5h-4zM77 81h4v4h-4zM92 101h4v4h-4zM57 106h4v4h-4zM62 106h4v4h-4zM72 106h4v4h-4zM77 106h4v4h-4zM82 106h4v4h-4zM92 106h4v4h-4zM57 111h4v4h-4zM62 111h4v4h-4zM72 111h4v4h-4zM97 111h4v4h-4zM112 111h4v4h-4zM117 111h4v4h-4zM82 116h4v4h-4zM92 116h4v4h-4zM52 121h4v4h-4zM62 121h4v4h-4zM122 121h4v4h-4zM62 156h4v4h-4zM77 156h4v4h-4zM92 156h4v4h-4zM102 156h4v4h-4zM117 156h4v4h-4zM137 156h4v4h-4zM142 156h4v4h-4zM147 156h4v4h-4zM162 156h4v4h-4zM62 161h4v4h-4zM167 166h5v4h-5zM117 176h4v4h-4zM122 176h4v4h-4zM122 181h4v4h-4zM77 196h4v4h-4zM117 196h4v4h-4zM122 196h4v4h-4zM127 196h4v4h-4zM167 196h5v4h-5zM167 201h5v4h-5zM167 206h5v4h-5zM92 216h4v4h-4zM117 216h4v4h-4zM117 221h4v4h-4zM127 221h4v4h-4zM92 236h4v4h-4zM117 236h4v4h-4zM122 236h4v4h-4zM92 241h4v4h-4zM117 241h4v4h-4zM122 241h4v4h-4zM57 246h4v4h-4zM77 246h4v4h-4zM92 246h4v4h-4zM117 246h4v4h-4zM122 246h4v4h-4zM127 246h4v4h-4zM167 246h5v4h-5zM57 256h4v4h-4zM77 256h4v4h-4zM92 256h4v4h-4zM117 256h4v4h-4zM122 256h4v4h-4zM127 256h4v4h-4zM132 256h4v4h-4zM162 256h4v4h-4zM167 256h5v4h-5zM178 256h4v4h-4zM183 256h4v4h-4zM198 256h4v4h-4zM203 256h4v4h-4zM213 256h4v4h-4zM218 256h4v4h-4zM223 256h4v4h-4zM238 256h4v4h-4zM243 256h4v4h-4zM258 256h4v4h-4zM263 256h4v4h-4zM92 261h4v4h-4zM122 261h4v4h-4zM268 261h4v4h-4zM92 266h4v4h-4zM117 266h4v4h-4zM92 271h4v4h-4zM122 271h4v4h-4zM167 271h5v4h-5zM208 271h4v4h-4zM77 276h4v4h-4zM92 276h4v4h-4zM117 276h4v4h-4zM122 276h4v4h-4zM127 276h4v4h-4zM92 281h4v4h-4zM117 281h4v4h-4zM92 286h4v4h-4zM117 286h4v4h-4zM122 286h4v4h-4zM283 286h4v4h-4zM62 296h4v4h-4zM57 301h4v4h-4zM67 301h4v4h-4zM77 301h4v4h-4zM117 301h4v4h-4zM122 301h4v4h-4zM132 301h4v4h-4zM152 301h4v4h-4zM162 301h4v4h-4zM167 301h5v4h-5zM173 301h4v4h-4zM178 301h4v4h-4zM183 301h4v4h-4zM203 301h4v4h-4zM218 301h4v4h-4zM223 301h4v4h-4zM243 301h4v4h-4zM263 301h4v4h-4zM303 301h4v4h-4zM268 306h4v4h-4zM313 306h4v4h-4zM268 311h4v4h-4zM313 311h4v4h-4zM92 316h4v4h-4zM122 316h4v4h-4zM268 316h4v4h-4zM313 316h4v4h-4zM62 321h4v4h-4zM82 321h4v4h-4zM87 321h4v4h-4zM97 321h4v4h-4zM102 321h4v4h-4zM107 321h4v4h-4zM112 321h4v4h-4zM117 321h4v4h-4zM122 321h4v4h-4zM127 321h4v4h-4zM137 321h4v4h-4zM142 321h4v4h-4zM147 321h4v4h-4zM162 321h4v4h-4zM178 321h4v4h-4zM183 321h4v4h-4zM213 321h4v4h-4zM223 321h4v4h-4zM258 321h4v4h-4zM278 321h4v4h-4zM293 321h4v4h-4zM298 321h4v4h-4zM117 326h4v4h-4zM122 326h4v4h-4zM127 326h4v4h-4zM77 331h4v4h-4zM92 331h4v4h-4zM117 331h4v4h-4zM122 331h4v4h-4zM127 331h4v4h-4zM92 336h4v4h-4zM117 336h4v4h-4zM122 336h4v4h-4zM77 341h4v4h-4zM82 341h4v4h-4zM97 341h4v4h-4zM102 341h4v4h-4zM107 341h4v4h-4zM112 341h4v4h-4zM117 341h4v4h-4zM122 341h4v4h-4zM127 341h4v4h-4zM137 341h4v4h-4zM142 341h4v4h-4zM147 341h4v4h-4zM152 341h4v4h-4zM162 341h4v4h-4zM183 341h4v4h-4zM188 341h4v4h-4zM213 341h4v4h-4zM223 341h4v4h-4zM238 341h4v4h-4zM248 341h4v4h-4zM253 341h4v4h-4zM278 341h4v4h-4zM293 341h4v4h-4zM298 341h4v4h-4zM323 341h4v4h-4zM348 341h4v4h-4zM62 346h4v4h-4zM167 346h5v4h-5zM288 346h4v4h-4zM343 346h4v4h-4zM92 351h4v4h-4zM117 351h4v4h-4zM122 351h4v4h-4zM52 356h4v4h-4zM62 356h4v4h-4zM77 356h4v4h-4zM87 356h4v4h-4zM92 356h4v4h-4zM102 356h4v4h-4zM117 356h4v4h-4zM137 356h4v4h-4zM142 356h4v4h-4zM147 356h4v4h-4zM157 356h4v4h-4zM162 356h4v4h-4zM173 356h4v4h-4zM178 356h4v4h-4zM183 356h4v4h-4zM198 356h4v4h-4zM203 356h4v4h-4zM208 356h4v4h-4zM213 356h4v4h-4zM218 356h4v4h-4zM223 356h4v4h-4zM238 356h4v4h-4zM243 356h4v4h-4zM258 356h4v4h-4zM263 356h4v4h-4zM273 356h4v4h-4zM288 356h4v4h-4zM303 356h4v4h-4zM308 356h4v4h-4zM318 356h4v4h-4zM328 356h4v4h-4zM92 361h4v4h-4zM117 361h4v4h-4zM122 361h4v4h-4zM57 366h4v4h-4zM77 366h4v4h-4zM117 366h4v4h-4zM122 366h4v4h-4zM127 366h4v4h-4zM132 366h4v4h-4zM152 366h4v4h-4zM167 366h5v4h-5zM178 366h4v4h-4zM183 366h4v4h-4zM198 366h4v4h-4zM203 366h4v4h-4zM218 366h4v4h-4zM223 366h4v4h-4zM243 366h4v4h-4zM263 366h4v4h-4zM303 366h4v4h-4zM308 366h4v4h-4zM323 366h4v4h-4zM333 366h4v4h-4zM343 366h4v4h-4zM348 366h4v4h-4zM77 376h4v4h-4zM92 376h4v4h-4zM122 376h4v4h-4zM313 376h4v4h-4zM368 376h4v4h-4zM67 381h4v4h-4zM77 381h4v4h-4zM92 381h4v4h-4zM117 381h4v4h-4zM122 381h4v4h-4zM127 381h4v4h-4zM132 381h4v4h-4zM152 381h4v4h-4zM167 381h5v4h-5zM173 381h4v4h-4zM178 381h4v4h-4zM183 381h4v4h-4zM203 381h4v4h-4zM218 381h4v4h-4zM223 381h4v4h-4zM243 381h4v4h-4zM333 381h4v4h-4zM353 381h4v4h-4zM383 381h4v4h-4zM388 381h4v4h-4zM313 386h4v4h-4zM268 391h4v4h-4zM313 391h4v4h-4zM333 391h4v4h-4zM368 391h4v4h-4zM378 391h4v4h-4zM393 391h4v4h-4zM268 396h4v4h-4zM313 396h4v4h-4zM343 396h4v4h-4zM368 396h4v4h-4zM378 396h4v4h-4zM92 401h4v4h-4zM117 401h4v4h-4zM193 401h4v4h-4zM92 406h4v4h-4zM117 406h4v4h-4zM353 406h4v4h-4zM57 411h4v4h-4zM67 411h4v4h-4zM72 411h4v4h-4zM82 411h4v4h-4zM87 411h4v4h-4zM92 411h4v4h-4zM97 411h4v4h-4zM112 411h4v4h-4zM117 411h4v4h-4zM122 411h4v4h-4zM157 411h4v4h-4zM188 411h4v4h-4zM193 411h4v4h-4zM208 411h4v4h-4zM228 411h4v4h-4zM233 411h4v4h-4zM248 411h4v4h-4zM253 411h4v4h-4zM258 411h4v4h-4zM268 411h4v4h-4zM278 411h4v4h-4zM293 411h4v4h-4zM298 411h4v4h-4zM313 411h4v4h-4zM338 411h4v4h-4zM343 411h4v4h-4zM368 411h4v4h-4zM388 411h4v4h-4zM408 411h4v4h-4zM77 416h4v5h-4zM92 416h4v5h-4zM117 416h4v5h-4zM122 416h4v5h-4zM127 416h4v5h-4zM132 416h4v5h-4zM333 416h4v5h-4zM52 422h4v4h-4zM62 422h4v4h-4zM102 422h4v4h-4zM117 422h4v4h-4zM122 422h4v4h-4zM127 422h4v4h-4zM137 422h4v4h-4zM393 422h4v4h-4zM423 422h4v4h-4zM428 422h4v4h-4zM57 427h4v4h-4zM117 427h4v4h-4zM122 427h4v4h-4zM167 427h5v4h-5zM368 427h4v4h-4zM423 427h4v4h-4zM77 432h4v4h-4zM92 432h4v4h-4zM117 432h4v4h-4zM122 432h4v4h-4zM127 432h4v4h-4zM268 432h4v4h-4zM313 432h4v4h-4zM333 432h4v4h-4zM378 432h4v4h-4zM423 432h4v4h-4zM92 442h4v4h-4zM117 442h4v4h-4zM438 442h4v4h-4zM52 447h4v4h-4zM57 447h4v4h-4zM67 447h4v4h-4zM72 447h4v4h-4zM77 447h4v4h-4zM92 447h4v4h-4zM102 447h4v4h-4zM107 447h4v4h-4zM112 447h4v4h-4zM117 447h4v4h-4zM122 447h4v4h-4zM127 447h4v4h-4zM137 447h4v4h-4zM152 447h4v4h-4zM157 447h4v4h-4zM188 447h4v4h-4zM193 447h4v4h-4zM208 447h4v4h-4zM238 447h4v4h-4zM248 447h4v4h-4zM253 447h4v4h-4zM258 447h4v4h-4zM268 447h4v4h-4zM278 447h4v4h-4zM293 447h4v4h-4zM298 447h4v4h-4zM313 447h4v4h-4zM338 447h4v4h-4zM343 447h4v4h-4zM368 447h4v4h-4zM388 447h4v4h-4zM403 447h4v4h-4zM408 447h4v4h-4zM428 447h4v4h-4zM433 447h4v4h-4zM438 447h4v4h-4zM57 452h4v4h-4zM77 452h4v4h-4zM117 452h4v4h-4zM122 452h4v4h-4zM127 452h4v4h-4zM132 452h4v4h-4zM333 452h4v4h-4zM448 452h4v4h-4zM92 457h4v4h-4zM117 457h4v4h-4zM122 457h4v4h-4zM423 457h4v4h-4zM458 457h4v4h-4zM92 462h4v4h-4zM117 462h4v4h-4zM122 462h4v4h-4zM378 462h4v4h-4zM423 462h4v4h-4zM458 462h4v4h-4zM92 467h4v4h-4zM117 467h4v4h-4zM353 467h4v4h-4zM438 467h4v4h-4zM52 472h4v4h-4zM57 472h4v4h-4zM67 472h4v4h-4zM72 472h4v4h-4zM87 472h4v4h-4zM92 472h4v4h-4zM97 472h4v4h-4zM112 472h4v4h-4zM117 472h4v4h-4zM132 472h4v4h-4zM152 472h4v4h-4zM198 472h4v4h-4zM208 472h4v4h-4zM238 472h4v4h-4zM268 472h4v4h-4zM273 472h4v4h-4zM288 472h4v4h-4zM313 472h4v4h-4zM328 472h4v4h-4zM333 472h4v4h-4zM343 472h4v4h-4zM368 472h4v4h-4zM378 472h4v4h-4zM388 472h4v4h-4zM403 472h4v4h-4zM408 472h4v4h-4zM433 472h4v4h-4zM463 472h4v4h-4zM92 477h4v4h-4zM117 477h4v4h-4zM122 477h4v4h-4zM353 477h4v4h-4zM378 477h4v4h-4zM423 477h4v4h-4zM458 477h4v4h-4zM92 482h4v4h-4zM117 482h4v4h-4zM353 482h4v4h-4zM268 487h4v4h-4zM313 487h4v4h-4zM393 487h4v4h-4zM458 487h4v4h-4zM92 492h4v4h-4zM117 492h4v4h-4zM122 492h4v4h-4zM353 492h4v4h-4zM378 492h4v4h-4zM423 492h4v4h-4zM458 492h4v4h-4zM483 492h4v4h-4zM92 497h4v4h-4zM117 497h4v4h-4zM122 497h4v4h-4zM353 497h4v4h-4zM458 497h4v4h-4zM92 502h4v4h-4zM333 502h4v4h-4zM378 502h4v4h-4zM458 502h4v4h-4zM57 507h4v4h-4zM77 507h4v4h-4zM92 507h4v4h-4zM117 507h4v4h-4zM122 507h4v4h-4zM127 507h4v4h-4zM132 507h4v4h-4zM162 507h4v4h-4zM173 507h4v4h-4zM178 507h4v4h-4zM183 507h4v4h-4zM203 507h4v4h-4zM218 507h4v4h-4zM223 507h4v4h-4zM243 507h4v4h-4zM263 507h4v4h-4zM333 507h4v4h-4zM358 507h4v4h-4zM438 507h4v4h-4zM92 512h4v4h-4zM117 512h4v4h-4zM122 512h4v4h-4zM353 512h4v4h-4zM378 512h4v4h-4zM423 512h4v4h-4zM458 512h4v4h-4zM463 512h4v4h-4zM483 512h4v4h-4zM92 517h4v4h-4zM117 517h4v4h-4zM122 517h4v4h-4zM353 517h4v4h-4zM378 517h4v4h-4zM423 517h4v4h-4zM458 517h4v4h-4zM117 522h4v3h-4zM122 522h4v3h-4z"/>
<path fill="#dee6ea" d="M62 60h4v5h-4zM57 76h4v4h-4zM77 96h4v4h-4zM52 101h4v4h-4zM102 116h4v4h-4zM67 121h4v4h-4zM97 121h4v4h-4zM107 121h4v4h-4zM77 126h4v4h-4zM132 126h4v4h-4zM127 131h4v4h-4zM132 141h4v4h-4zM77 146h4v4h-4zM127 146h4v4h-4zM132 146h4v4h-4zM77 151h4v4h-4zM82 156h4v4h-4zM77 161h4v4h-4zM77 166h4v4h-4zM127 166h4v4h-4zM132 186h4v4h-4zM77 191h4v4h-4zM132 191h4v4h-4zM72 196h4v4h-4zM77 201h4v4h-4zM77 206h4v4h-4zM127 206h4v4h-4zM77 211h4v4h-4zM127 211h4v4h-4zM57 226h4v4h-4zM77 231h4v4h-4zM52 236h4v4h-4zM82 246h4v4h-4zM77 251h4v4h-4zM72 256h4v4h-4zM57 261h4v4h-4zM82 261h4v4h-4zM112 261h4v4h-4zM52 271h4v4h-4zM67 271h4v4h-4zM132 296h4v4h-4zM127 306h4v4h-4zM132 311h4v4h-4zM57 316h4v4h-4zM72 316h4v4h-4zM112 316h4v4h-4zM72 321h4v4h-4zM62 326h4v4h-4zM82 331h4v4h-4zM52 336h4v4h-4zM343 336h4v4h-4zM72 341h4v4h-4zM117 346h4v4h-4zM127 346h4v4h-4zM52 351h4v4h-4zM57 356h4v4h-4zM112 356h4v4h-4zM77 371h4v4h-4zM82 376h4v4h-4zM127 386h4v4h-4zM57 391h4v4h-4zM77 396h4v4h-4zM132 396h4v4h-4zM343 401h4v4h-4zM413 416h4v5h-4zM112 422h4v4h-4zM87 427h4v4h-4zM97 427h4v4h-4zM147 427h4v4h-4zM383 427h4v4h-4zM408 427h4v4h-4zM57 432h4v4h-4zM112 432h4v4h-4zM77 437h4v4h-4zM368 442h4v4h-4zM443 442h4v4h-4zM72 452h4v4h-4zM67 462h4v4h-4zM87 462h4v4h-4zM97 462h4v4h-4zM147 462h4v4h-4zM388 462h4v4h-4zM403 462h4v4h-4zM408 462h4v4h-4zM388 477h4v4h-4zM403 477h4v4h-4zM443 482h4v4h-4zM132 487h4v4h-4zM473 487h4v4h-4zM388 492h4v4h-4zM52 497h4v4h-4zM368 497h4v4h-4zM443 497h4v4h-4zM112 502h4v4h-4zM373 502h4v4h-4zM468 502h4v4h-4zM478 502h4v4h-4zM508 502h4v4h-4zM87 512h4v4h-4zM97 512h4v4h-4zM147 512h4v4h-4zM388 512h4v4h-4zM403 512h4v4h-4zM408 512h4v4h-4zM87 517h4v4h-4zM388 517h4v4h-4zM403 517h4v4h-4zM368 522h4v3h-4zM443 522h4v3h-4z"/>
<path fill="#ede0dd" d="M67 66h4v4h-4zM62 71h4v4h-4zM77 76h4v4h-4zM67 81h4v4h-4zM77 86h4v4h-4zM92 91h4v4h-4zM92 96h4v4h-4zM62 101h4v4h-4zM67 106h4v4h-4zM107 106h4v4h-4zM107 111h4v4h-4zM67 116h4v4h-4zM87 116h4v4h-4zM97 116h4v4h-4zM92 126h4v4h-4zM117 126h4v4h-4zM122 126h4v4h-4zM117 131h4v4h-4zM122 131h4v4h-4zM122 136h4v4h-4zM77 141h4v4h-4zM117 146h4v4h-4zM122 146h4v4h-4zM92 151h4v4h-4zM117 151h4v4h-4zM122 151h4v4h-4zM112 156h4v4h-4zM117 161h4v4h-4zM122 161h4v4h-4zM92 166h4v4h-4zM117 166h4v4h-4zM122 166h4v4h-4zM92 171h4v4h-4zM117 171h4v4h-4zM122 171h4v4h-4zM127 171h4v4h-4zM52 176h4v4h-4zM62 176h4v4h-4zM52 181h4v4h-4zM62 181h4v4h-4zM77 186h4v4h-4zM92 186h4v4h-4zM92 191h4v4h-4zM117 191h4v4h-4zM122 191h4v4h-4zM127 191h4v4h-4zM82 196h4v4h-4zM112 196h4v4h-4zM188 196h4v4h-4zM193 196h4v4h-4zM92 201h4v4h-4zM117 201h4v4h-4zM122 201h4v4h-4zM92 206h4v4h-4zM122 206h4v4h-4zM92 211h4v4h-4zM117 211h4v4h-4zM122 211h4v4h-4zM167 221h5v4h-5zM92 231h4v4h-4zM117 231h4v4h-4zM122 231h4v4h-4zM62 236h4v4h-4zM167 236h5v4h-5zM208 236h4v4h-4zM167 241h5v4h-5zM208 241h4v4h-4zM188 246h4v4h-4zM193 246h4v4h-4zM248 246h4v4h-4zM253 246h4v4h-4zM92 251h4v4h-4zM117 251h4v4h-4zM122 251h4v4h-4zM228 256h4v4h-4zM233 256h4v4h-4zM72 261h4v4h-4zM253 261h4v4h-4zM52 266h4v4h-4zM62 266h4v4h-4zM208 266h4v4h-4zM62 271h4v4h-4zM258 271h4v4h-4zM268 271h4v4h-4zM72 276h4v4h-4zM82 276h4v4h-4zM112 276h4v4h-4zM188 276h4v4h-4zM233 276h4v4h-4zM248 276h4v4h-4zM278 276h4v4h-4zM268 281h4v4h-4zM62 286h4v4h-4zM208 286h4v4h-4zM258 286h4v4h-4zM288 286h4v4h-4zM92 291h4v4h-4zM117 291h4v4h-4zM122 291h4v4h-4zM92 296h4v4h-4zM117 296h4v4h-4zM122 296h4v4h-4zM228 301h4v4h-4zM233 301h4v4h-4zM283 301h4v4h-4zM293 301h4v4h-4zM92 306h4v4h-4zM122 306h4v4h-4zM77 311h4v4h-4zM283 311h4v4h-4zM132 316h4v4h-4zM283 316h4v4h-4zM167 321h5v4h-5zM173 321h4v4h-4zM198 321h4v4h-4zM228 321h4v4h-4zM308 321h4v4h-4zM167 326h5v4h-5zM208 326h4v4h-4zM268 326h4v4h-4zM288 326h4v4h-4zM72 331h4v4h-4zM112 331h4v4h-4zM188 331h4v4h-4zM233 331h4v4h-4zM248 331h4v4h-4zM278 331h4v4h-4zM293 331h4v4h-4zM298 331h4v4h-4zM338 331h4v4h-4zM268 336h4v4h-4zM313 336h4v4h-4zM173 341h4v4h-4zM198 341h4v4h-4zM283 341h4v4h-4zM303 341h4v4h-4zM122 346h4v4h-4zM333 346h4v4h-4zM268 351h4v4h-4zM288 351h4v4h-4zM313 351h4v4h-4zM132 356h4v4h-4zM268 356h4v4h-4zM313 356h4v4h-4zM353 356h4v4h-4zM167 361h5v4h-5zM208 361h4v4h-4zM268 361h4v4h-4zM288 361h4v4h-4zM313 361h4v4h-4zM343 361h4v4h-4zM353 361h4v4h-4zM368 361h4v4h-4zM188 366h4v4h-4zM228 366h4v4h-4zM233 366h4v4h-4zM293 366h4v4h-4zM338 366h4v4h-4zM358 366h4v4h-4zM373 366h4v4h-4zM92 371h4v4h-4zM117 371h4v4h-4zM122 371h4v4h-4zM333 371h4v4h-4zM82 381h4v4h-4zM228 381h4v4h-4zM283 381h4v4h-4zM293 381h4v4h-4zM348 381h4v4h-4zM363 381h4v4h-4zM92 386h4v4h-4zM122 386h4v4h-4zM132 391h4v4h-4zM117 396h4v4h-4zM122 396h4v4h-4zM127 396h4v4h-4zM268 401h4v4h-4zM313 401h4v4h-4zM393 401h4v4h-4zM62 406h4v4h-4zM208 406h4v4h-4zM268 406h4v4h-4zM288 406h4v4h-4zM313 406h4v4h-4zM393 406h4v4h-4zM218 411h4v4h-4zM358 411h4v4h-4zM398 411h4v4h-4zM112 416h4v5h-4zM188 416h4v5h-4zM193 416h4v5h-4zM233 416h4v5h-4zM248 416h4v5h-4zM298 416h4v5h-4zM338 416h4v5h-4zM363 416h4v5h-4zM373 416h4v5h-4zM418 416h4v5h-4zM132 422h4v4h-4zM333 422h4v4h-4zM353 422h4v4h-4zM373 422h4v4h-4zM67 427h4v4h-4zM198 427h4v4h-4zM238 427h4v4h-4zM328 427h4v4h-4zM333 427h4v4h-4zM353 427h4v4h-4zM373 432h4v4h-4zM92 437h4v4h-4zM122 437h4v4h-4zM333 437h4v4h-4zM353 437h4v4h-4zM378 437h4v4h-4zM268 442h4v4h-4zM313 442h4v4h-4zM393 442h4v4h-4zM433 442h4v4h-4zM228 447h4v4h-4zM82 452h4v4h-4zM112 452h4v4h-4zM228 452h4v4h-4zM248 452h4v4h-4zM253 452h4v4h-4zM278 452h4v4h-4zM283 452h4v4h-4zM298 452h4v4h-4zM348 452h4v4h-4zM363 452h4v4h-4zM418 452h4v4h-4zM438 452h4v4h-4zM453 452h4v4h-4zM62 457h4v4h-4zM208 457h4v4h-4zM258 457h4v4h-4zM268 457h4v4h-4zM273 457h4v4h-4zM288 457h4v4h-4zM313 457h4v4h-4zM428 457h4v4h-4zM433 457h4v4h-4zM443 457h4v4h-4zM463 457h4v4h-4zM52 462h4v4h-4zM258 462h4v4h-4zM268 462h4v4h-4zM273 462h4v4h-4zM313 462h4v4h-4zM333 462h4v4h-4zM368 462h4v4h-4zM443 462h4v4h-4zM52 467h4v4h-4zM208 467h4v4h-4zM268 467h4v4h-4zM288 467h4v4h-4zM313 467h4v4h-4zM393 467h4v4h-4zM433 467h4v4h-4zM458 467h4v4h-4zM82 472h4v4h-4zM102 472h4v4h-4zM142 472h4v4h-4zM193 472h4v4h-4zM228 472h4v4h-4zM278 472h4v4h-4zM293 472h4v4h-4zM298 472h4v4h-4zM358 472h4v4h-4zM413 472h4v4h-4zM478 472h4v4h-4zM52 477h4v4h-4zM208 477h4v4h-4zM273 477h4v4h-4zM368 477h4v4h-4zM393 477h4v4h-4zM443 477h4v4h-4zM62 482h4v4h-4zM208 482h4v4h-4zM268 482h4v4h-4zM288 482h4v4h-4zM313 482h4v4h-4zM393 482h4v4h-4zM433 482h4v4h-4zM117 487h4v4h-4zM122 487h4v4h-4zM127 487h4v4h-4zM353 487h4v4h-4zM62 492h4v4h-4zM208 492h4v4h-4zM258 492h4v4h-4zM268 492h4v4h-4zM273 492h4v4h-4zM288 492h4v4h-4zM313 492h4v4h-4zM343 492h4v4h-4zM393 492h4v4h-4zM428 492h4v4h-4zM443 492h4v4h-4zM62 497h4v4h-4zM167 497h5v4h-5zM208 497h4v4h-4zM268 497h4v4h-4zM288 497h4v4h-4zM313 497h4v4h-4zM343 497h4v4h-4zM393 497h4v4h-4zM428 497h4v4h-4zM433 497h4v4h-4zM438 502h4v4h-4zM82 507h4v4h-4zM188 507h4v4h-4zM193 507h4v4h-4zM233 507h4v4h-4zM248 507h4v4h-4zM278 507h4v4h-4zM283 507h4v4h-4zM293 507h4v4h-4zM298 507h4v4h-4zM338 507h4v4h-4zM373 507h4v4h-4zM418 507h4v4h-4zM453 507h4v4h-4zM478 507h4v4h-4zM493 507h4v4h-4zM273 512h4v4h-4zM368 512h4v4h-4zM443 512h4v4h-4zM513 512h4v4h-4zM167 517h5v4h-5zM208 517h4v4h-4zM273 517h4v4h-4zM368 517h4v4h-4zM167 522h5v3h-5zM268 522h4v3h-4zM313 522h4v3h-4zM393 522h4v3h-4zM433 522h4v3h-4zM518 522h4v3h-4z"/>
<path fill="#eef0f2" d="M52 71h4v4h-4zM102 106h4v4h-4zM102 111h4v4h-4zM107 116h4v4h-4zM87 121h4v4h-4zM127 126h4v4h-4zM127 136h4v4h-4zM127 151h4v4h-4zM57 156h4v4h-4zM92 161h4v4h-4zM127 161h4v4h-4zM77 171h4v4h-4zM127 201h4v4h-4zM117 206h4v4h-4zM62 216h4v4h-4zM62 221h4v4h-4zM132 226h4v4h-4zM127 231h4v4h-4zM52 241h4v4h-4zM112 246h4v4h-4zM127 251h4v4h-4zM233 261h4v4h-4zM157 271h4v4h-4zM193 276h4v4h-4zM62 281h4v4h-4zM167 281h5v4h-5zM288 281h4v4h-4zM127 291h4v4h-4zM77 296h4v4h-4zM127 296h4v4h-4zM72 301h4v4h-4zM117 306h4v4h-4zM313 326h4v4h-4zM193 331h4v4h-4zM62 336h4v4h-4zM208 336h4v4h-4zM258 336h4v4h-4zM288 336h4v4h-4zM308 341h4v4h-4zM92 346h4v4h-4zM353 346h4v4h-4zM62 351h4v4h-4zM258 351h4v4h-4zM343 351h4v4h-4zM233 356h4v4h-4zM253 356h4v4h-4zM333 356h4v4h-4zM62 361h4v4h-4zM273 361h4v4h-4zM72 366h4v4h-4zM127 371h4v4h-4zM117 386h4v4h-4zM62 401h4v4h-4zM288 401h4v4h-4zM52 406h4v4h-4zM258 406h4v4h-4zM343 406h4v4h-4zM72 416h4v5h-4zM82 416h4v5h-4zM278 416h4v5h-4zM293 416h4v5h-4zM348 416h4v5h-4zM338 422h4v4h-4zM52 427h4v4h-4zM152 427h4v4h-4zM323 427h4v4h-4zM403 427h4v4h-4zM72 432h4v4h-4zM253 432h4v4h-4zM117 437h4v4h-4zM127 437h4v4h-4zM62 442h4v4h-4zM167 442h5v4h-5zM288 442h4v4h-4zM343 442h4v4h-4zM428 442h4v4h-4zM293 452h4v4h-4zM373 452h4v4h-4zM413 452h4v4h-4zM52 457h4v4h-4zM368 457h4v4h-4zM328 462h4v4h-4zM62 467h4v4h-4zM258 467h4v4h-4zM343 467h4v4h-4zM428 467h4v4h-4zM328 477h4v4h-4zM52 482h4v4h-4zM258 482h4v4h-4zM343 482h4v4h-4zM428 482h4v4h-4zM77 487h4v4h-4zM438 487h4v4h-4zM52 492h4v4h-4zM368 492h4v4h-4zM258 497h4v4h-4zM283 502h4v4h-4zM473 502h4v4h-4zM488 502h4v4h-4zM503 502h4v4h-4zM228 507h4v4h-4zM348 507h4v4h-4zM413 507h4v4h-4zM328 512h4v4h-4zM443 517h4v4h-4zM513 517h4v4h-4zM62 522h4v3h-4zM288 522h4v3h-4zM343 522h4v3h-4zM428 522h4v3h-4zM463 522h4v3h-4z"/>
<path fill="#81a9bc" d="M67 71h4v4h-4zM72 91h4v4h-4zM82 91h4v4h-4zM72 96h4v4h-4zM82 96h4v4h-4zM102 101h4v4h-4zM107 101h4v4h-4zM72 126h4v4h-4zM82 126h4v4h-4zM112 126h4v4h-4zM72 131h4v4h-4zM82 131h4v4h-4zM112 131h4v4h-4zM82 136h4v4h-4zM72 146h4v4h-4zM112 146h4v4h-4zM82 151h4v4h-4zM57 161h4v4h-4zM112 161h4v4h-4zM72 166h4v4h-4zM82 166h4v4h-4zM112 166h4v4h-4zM82 171h4v4h-4zM102 176h4v4h-4zM137 176h4v4h-4zM142 176h4v4h-4zM67 181h4v4h-4zM102 181h4v4h-4zM107 181h4v4h-4zM137 181h4v4h-4zM142 181h4v4h-4zM82 186h4v4h-4zM82 191h4v4h-4zM72 201h4v4h-4zM82 201h4v4h-4zM112 201h4v4h-4zM72 206h4v4h-4zM112 206h4v4h-4zM72 211h4v4h-4zM82 211h4v4h-4zM112 211h4v4h-4zM67 216h4v4h-4zM107 216h4v4h-4zM137 216h4v4h-4zM142 216h4v4h-4zM107 221h4v4h-4zM137 221h4v4h-4zM82 231h4v4h-4zM102 236h4v4h-4zM137 236h4v4h-4zM82 251h4v4h-4zM67 266h4v4h-4zM102 266h4v4h-4zM67 281h4v4h-4zM107 281h4v4h-4zM137 281h4v4h-4zM102 286h4v4h-4zM57 291h4v4h-4zM82 291h4v4h-4zM82 296h4v4h-4zM72 306h4v4h-4zM112 306h4v4h-4zM102 326h4v4h-4zM137 326h4v4h-4zM142 326h4v4h-4zM67 336h4v4h-4zM107 336h4v4h-4zM137 336h4v4h-4zM142 336h4v4h-4zM147 336h4v4h-4zM57 346h4v4h-4zM72 346h4v4h-4zM112 346h4v4h-4zM107 351h4v4h-4zM137 351h4v4h-4zM142 351h4v4h-4zM147 351h4v4h-4zM102 361h4v4h-4zM142 361h4v4h-4zM358 361h4v4h-4zM82 371h4v4h-4zM348 371h4v4h-4zM363 371h4v4h-4zM82 386h4v4h-4zM112 386h4v4h-4zM348 386h4v4h-4zM363 386h4v4h-4zM67 401h4v4h-4zM107 401h4v4h-4zM137 401h4v4h-4zM147 401h4v4h-4zM383 401h4v4h-4zM67 406h4v4h-4zM102 406h4v4h-4zM107 406h4v4h-4zM137 406h4v4h-4zM142 406h4v4h-4zM383 406h4v4h-4zM57 437h4v4h-4zM112 437h4v4h-4zM348 437h4v4h-4zM363 437h4v4h-4zM413 437h4v4h-4zM418 437h4v4h-4zM67 442h4v4h-4zM107 442h4v4h-4zM137 442h4v4h-4zM147 442h4v4h-4zM383 442h4v4h-4zM102 457h4v4h-4zM67 467h4v4h-4zM102 467h4v4h-4zM137 467h4v4h-4zM142 467h4v4h-4zM383 467h4v4h-4zM398 467h4v4h-4zM448 467h4v4h-4zM67 482h4v4h-4zM107 482h4v4h-4zM137 482h4v4h-4zM142 482h4v4h-4zM383 482h4v4h-4zM82 487h4v4h-4zM348 487h4v4h-4zM413 487h4v4h-4zM418 487h4v4h-4zM453 487h4v4h-4zM478 487h4v4h-4zM493 487h4v4h-4zM102 492h4v4h-4zM358 492h4v4h-4zM102 497h4v4h-4zM137 497h4v4h-4zM142 497h4v4h-4zM383 497h4v4h-4zM398 497h4v4h-4zM448 497h4v4h-4zM67 522h4v3h-4zM97 522h4v3h-4zM107 522h4v3h-4zM137 522h4v3h-4zM147 522h4v3h-4zM383 522h4v3h-4z"/>
<path fill="#a0bdcb" d="M82 76h4v4h-4zM72 86h4v4h-4zM82 86h4v4h-4zM57 91h4v4h-4zM67 101h4v4h-4zM57 126h4v4h-4zM57 131h4v4h-4zM57 136h4v4h-4zM72 136h4v4h-4zM112 136h4v4h-4zM82 141h4v4h-4zM82 146h4v4h-4zM57 151h4v4h-4zM72 151h4v4h-4zM112 151h4v4h-4zM72 161h4v4h-4zM132 161h4v4h-4zM57 166h4v4h-4zM57 171h4v4h-4zM72 171h4v4h-4zM112 171h4v4h-4zM67 176h4v4h-4zM87 176h4v4h-4zM97 176h4v4h-4zM107 176h4v4h-4zM147 176h4v4h-4zM87 181h4v4h-4zM97 181h4v4h-4zM147 181h4v4h-4zM57 191h4v4h-4zM112 191h4v4h-4zM57 201h4v4h-4zM57 206h4v4h-4zM132 206h4v4h-4zM57 211h4v4h-4zM87 216h4v4h-4zM97 216h4v4h-4zM147 216h4v4h-4zM67 221h4v4h-4zM87 221h4v4h-4zM97 221h4v4h-4zM147 221h4v4h-4zM82 226h4v4h-4zM57 231h4v4h-4zM72 231h4v4h-4zM112 231h4v4h-4zM67 236h4v4h-4zM87 236h4v4h-4zM97 236h4v4h-4zM107 236h4v4h-4zM142 236h4v4h-4zM147 236h4v4h-4zM102 241h4v4h-4zM137 241h4v4h-4zM142 241h4v4h-4zM57 251h4v4h-4zM72 251h4v4h-4zM112 251h4v4h-4zM87 266h4v4h-4zM97 266h4v4h-4zM107 266h4v4h-4zM137 266h4v4h-4zM142 266h4v4h-4zM147 266h4v4h-4zM102 271h4v4h-4zM142 271h4v4h-4zM87 281h4v4h-4zM97 281h4v4h-4zM147 281h4v4h-4zM67 286h4v4h-4zM97 286h4v4h-4zM107 286h4v4h-4zM137 286h4v4h-4zM142 286h4v4h-4zM72 291h4v4h-4zM112 291h4v4h-4zM57 296h4v4h-4zM112 296h4v4h-4zM57 306h4v4h-4zM82 311h4v4h-4zM97 326h4v4h-4zM107 326h4v4h-4zM147 326h4v4h-4zM87 336h4v4h-4zM97 336h4v4h-4zM132 346h4v4h-4zM67 351h4v4h-4zM87 351h4v4h-4zM97 351h4v4h-4zM87 361h4v4h-4zM97 361h4v4h-4zM107 361h4v4h-4zM137 361h4v4h-4zM147 361h4v4h-4zM57 371h4v4h-4zM72 371h4v4h-4zM112 371h4v4h-4zM373 371h4v4h-4zM72 376h4v4h-4zM57 386h4v4h-4zM72 386h4v4h-4zM373 386h4v4h-4zM348 391h4v4h-4zM363 391h4v4h-4zM72 396h4v4h-4zM82 396h4v4h-4zM112 396h4v4h-4zM348 396h4v4h-4zM363 396h4v4h-4zM373 396h4v4h-4zM87 401h4v4h-4zM97 401h4v4h-4zM403 401h4v4h-4zM408 401h4v4h-4zM87 406h4v4h-4zM97 406h4v4h-4zM147 406h4v4h-4zM403 406h4v4h-4zM408 406h4v4h-4zM72 437h4v4h-4zM373 437h4v4h-4zM87 442h4v4h-4zM97 442h4v4h-4zM403 442h4v4h-4zM408 442h4v4h-4zM107 457h4v4h-4zM137 457h4v4h-4zM142 457h4v4h-4zM358 457h4v4h-4zM383 457h4v4h-4zM398 457h4v4h-4zM448 457h4v4h-4zM97 467h4v4h-4zM107 467h4v4h-4zM147 467h4v4h-4zM403 467h4v4h-4zM102 477h4v4h-4zM142 477h4v4h-4zM358 477h4v4h-4zM383 477h4v4h-4zM398 477h4v4h-4zM448 477h4v4h-4zM87 482h4v4h-4zM97 482h4v4h-4zM147 482h4v4h-4zM403 482h4v4h-4zM408 482h4v4h-4zM57 487h4v4h-4zM112 487h4v4h-4zM363 487h4v4h-4zM107 492h4v4h-4zM137 492h4v4h-4zM142 492h4v4h-4zM383 492h4v4h-4zM398 492h4v4h-4zM448 492h4v4h-4zM67 497h4v4h-4zM87 497h4v4h-4zM97 497h4v4h-4zM107 497h4v4h-4zM147 497h4v4h-4zM403 497h4v4h-4zM498 497h4v4h-4zM358 512h4v4h-4zM102 517h4v4h-4zM358 517h4v4h-4zM383 517h4v4h-4zM398 517h4v4h-4zM448 517h4v4h-4zM87 522h4v3h-4zM403 522h4v3h-4zM408 522h4v3h-4zM498 522h4v3h-4z"/>
<path fill="#5e92ab" d="M82 161h4v4h-4zM173 176h4v4h-4zM173 181h4v4h-4zM82 206h4v4h-4zM102 216h4v4h-4zM173 216h4v4h-4zM218 216h4v4h-4zM102 221h4v4h-4zM142 221h4v4h-4zM102 281h4v4h-4zM142 281h4v4h-4zM173 281h4v4h-4zM218 281h4v4h-4zM82 306h4v4h-4zM228 306h4v4h-4zM293 306h4v4h-4zM102 336h4v4h-4zM173 336h4v4h-4zM218 336h4v4h-4zM82 346h4v4h-4zM193 346h4v4h-4zM228 346h4v4h-4zM278 346h4v4h-4zM293 346h4v4h-4zM348 346h4v4h-4zM102 351h4v4h-4zM173 351h4v4h-4zM218 351h4v4h-4zM318 351h4v4h-4zM358 351h4v4h-4zM102 401h4v4h-4zM142 401h4v4h-4zM173 401h4v4h-4zM218 401h4v4h-4zM318 401h4v4h-4zM358 401h4v4h-4zM398 401h4v4h-4zM173 406h4v4h-4zM358 406h4v4h-4zM398 406h4v4h-4zM82 437h4v4h-4zM228 437h4v4h-4zM102 442h4v4h-4zM142 442h4v4h-4zM173 442h4v4h-4zM218 442h4v4h-4zM318 442h4v4h-4zM358 442h4v4h-4zM398 442h4v4h-4zM448 442h4v4h-4zM358 467h4v4h-4zM102 482h4v4h-4zM173 482h4v4h-4zM218 482h4v4h-4zM318 482h4v4h-4zM358 482h4v4h-4zM398 482h4v4h-4zM448 482h4v4h-4zM358 497h4v4h-4zM102 522h4v3h-4zM142 522h4v3h-4zM173 522h4v3h-4zM218 522h4v3h-4zM318 522h4v3h-4zM358 522h4v3h-4zM398 522h4v3h-4zM448 522h4v3h-4z"/>
<path fill="#95b6c6" d="M152 176h4v4h-4zM157 176h4v4h-4zM183 176h4v4h-4zM152 181h4v4h-4zM157 181h4v4h-4zM183 181h4v4h-4zM193 186h4v4h-4zM188 191h4v4h-4zM193 191h4v4h-4zM193 201h4v4h-4zM188 211h4v4h-4zM152 216h4v4h-4zM157 216h4v4h-4zM198 216h4v4h-4zM203 216h4v4h-4zM162 221h4v4h-4zM183 221h4v4h-4zM203 221h4v4h-4zM223 221h4v4h-4zM228 226h4v4h-4zM188 231h4v4h-4zM193 231h4v4h-4zM233 231h4v4h-4zM157 236h4v4h-4zM162 236h4v4h-4zM178 236h4v4h-4zM183 236h4v4h-4zM203 236h4v4h-4zM213 236h4v4h-4zM223 236h4v4h-4zM162 241h4v4h-4zM173 241h4v4h-4zM178 241h4v4h-4zM218 241h4v4h-4zM188 251h4v4h-4zM193 251h4v4h-4zM233 251h4v4h-4zM152 266h4v4h-4zM162 266h4v4h-4zM183 266h4v4h-4zM203 266h4v4h-4zM213 266h4v4h-4zM223 266h4v4h-4zM243 266h4v4h-4zM152 281h4v4h-4zM198 281h4v4h-4zM203 281h4v4h-4zM238 281h4v4h-4zM243 281h4v4h-4zM162 286h4v4h-4zM178 286h4v4h-4zM218 286h4v4h-4zM193 291h4v4h-4zM188 296h4v4h-4zM193 296h4v4h-4zM233 296h4v4h-4zM193 311h4v4h-4zM228 311h4v4h-4zM162 326h4v4h-4zM173 326h4v4h-4zM178 326h4v4h-4zM213 326h4v4h-4zM223 326h4v4h-4zM243 326h4v4h-4zM152 336h4v4h-4zM157 336h4v4h-4zM183 336h4v4h-4zM198 336h4v4h-4zM238 336h4v4h-4zM152 351h4v4h-4zM198 351h4v4h-4zM203 351h4v4h-4zM238 351h4v4h-4zM243 351h4v4h-4zM157 361h4v4h-4zM162 361h4v4h-4zM178 361h4v4h-4zM183 361h4v4h-4zM213 361h4v4h-4zM223 361h4v4h-4zM188 371h4v4h-4zM193 371h4v4h-4zM228 391h4v4h-4zM228 396h4v4h-4zM233 396h4v4h-4zM152 401h4v4h-4zM157 401h4v4h-4zM198 401h4v4h-4zM203 401h4v4h-4zM238 401h4v4h-4zM152 406h4v4h-4zM157 406h4v4h-4zM183 406h4v4h-4zM198 406h4v4h-4zM203 406h4v4h-4zM238 406h4v4h-4zM243 406h4v4h-4zM152 442h4v4h-4zM198 442h4v4h-4zM203 442h4v4h-4zM238 442h4v4h-4zM162 457h4v4h-4zM173 457h4v4h-4zM178 457h4v4h-4zM218 457h4v4h-4zM157 467h4v4h-4zM162 467h4v4h-4zM183 467h4v4h-4zM203 467h4v4h-4zM213 467h4v4h-4zM223 467h4v4h-4zM243 467h4v4h-4zM173 477h4v4h-4zM178 477h4v4h-4zM218 477h4v4h-4zM152 482h4v4h-4zM157 482h4v4h-4zM183 482h4v4h-4zM198 482h4v4h-4zM203 482h4v4h-4zM238 482h4v4h-4zM188 487h4v4h-4zM193 487h4v4h-4zM233 487h4v4h-4zM162 492h4v4h-4zM173 492h4v4h-4zM178 492h4v4h-4zM218 492h4v4h-4zM157 497h4v4h-4zM183 497h4v4h-4zM198 497h4v4h-4zM203 497h4v4h-4zM213 497h4v4h-4zM223 497h4v4h-4zM238 497h4v4h-4zM243 497h4v4h-4zM173 517h4v4h-4zM152 522h4v3h-4zM198 522h4v3h-4zM203 522h4v3h-4zM238 522h4v3h-4z"/>
<path fill="#77a2b7" d="M162 176h4v4h-4zM178 176h4v4h-4zM162 181h4v4h-4zM178 181h4v4h-4zM188 201h4v4h-4zM188 206h4v4h-4zM193 206h4v4h-4zM193 211h4v4h-4zM162 216h4v4h-4zM178 216h4v4h-4zM183 216h4v4h-4zM213 216h4v4h-4zM223 216h4v4h-4zM157 221h4v4h-4zM173 221h4v4h-4zM178 221h4v4h-4zM213 221h4v4h-4zM218 221h4v4h-4zM228 231h4v4h-4zM173 236h4v4h-4zM218 236h4v4h-4zM228 251h4v4h-4zM173 266h4v4h-4zM178 266h4v4h-4zM218 266h4v4h-4zM157 281h4v4h-4zM162 281h4v4h-4zM178 281h4v4h-4zM183 281h4v4h-4zM213 281h4v4h-4zM223 281h4v4h-4zM173 286h4v4h-4zM188 291h4v4h-4zM228 291h4v4h-4zM233 291h4v4h-4zM228 296h4v4h-4zM188 306h4v4h-4zM193 306h4v4h-4zM233 306h4v4h-4zM157 326h4v4h-4zM218 326h4v4h-4zM162 336h4v4h-4zM178 336h4v4h-4zM203 336h4v4h-4zM213 336h4v4h-4zM223 336h4v4h-4zM243 336h4v4h-4zM188 346h4v4h-4zM233 346h4v4h-4zM157 351h4v4h-4zM162 351h4v4h-4zM178 351h4v4h-4zM183 351h4v4h-4zM213 351h4v4h-4zM223 351h4v4h-4zM173 361h4v4h-4zM218 361h4v4h-4zM228 371h4v4h-4zM233 371h4v4h-4zM188 386h4v4h-4zM193 386h4v4h-4zM228 386h4v4h-4zM233 386h4v4h-4zM162 401h4v4h-4zM178 401h4v4h-4zM183 401h4v4h-4zM213 401h4v4h-4zM223 401h4v4h-4zM243 401h4v4h-4zM162 406h4v4h-4zM178 406h4v4h-4zM213 406h4v4h-4zM218 406h4v4h-4zM223 406h4v4h-4zM188 437h4v4h-4zM193 437h4v4h-4zM233 437h4v4h-4zM157 442h4v4h-4zM162 442h4v4h-4zM178 442h4v4h-4zM183 442h4v4h-4zM213 442h4v4h-4zM223 442h4v4h-4zM243 442h4v4h-4zM173 467h4v4h-4zM178 467h4v4h-4zM218 467h4v4h-4zM162 482h4v4h-4zM178 482h4v4h-4zM213 482h4v4h-4zM223 482h4v4h-4zM243 482h4v4h-4zM228 487h4v4h-4zM162 497h4v4h-4zM173 497h4v4h-4zM178 497h4v4h-4zM218 497h4v4h-4zM157 522h4v3h-4zM162 522h4v3h-4zM178 522h4v3h-4zM183 522h4v3h-4zM213 522h4v3h-4zM223 522h4v3h-4zM243 522h4v3h-4z"/>
<path fill="#d8e2e7" d="M167 176h5v4h-5zM167 181h5v4h-5zM167 216h5v4h-5zM208 216h4v4h-4zM208 221h4v4h-4zM228 246h4v4h-4zM233 246h4v4h-4zM188 261h4v4h-4zM193 261h4v4h-4zM228 261h4v4h-4zM167 266h5v4h-5zM152 271h4v4h-4zM162 271h4v4h-4zM198 271h4v4h-4zM203 271h4v4h-4zM213 271h4v4h-4zM223 271h4v4h-4zM238 271h4v4h-4zM243 271h4v4h-4zM228 276h4v4h-4zM208 281h4v4h-4zM167 286h5v4h-5zM188 316h4v4h-4zM233 316h4v4h-4zM233 321h4v4h-4zM228 331h4v4h-4zM167 336h5v4h-5zM167 351h5v4h-5zM208 351h4v4h-4zM188 356h4v4h-4zM193 356h4v4h-4zM188 376h4v4h-4zM193 376h4v4h-4zM167 401h5v4h-5zM208 401h4v4h-4zM167 406h5v4h-5zM228 416h4v5h-4zM233 422h4v4h-4zM183 427h4v4h-4zM203 427h4v4h-4zM213 427h4v4h-4zM223 427h4v4h-4zM243 427h4v4h-4zM188 432h4v4h-4zM233 432h4v4h-4zM208 442h4v4h-4zM233 452h4v4h-4zM152 462h4v4h-4zM157 462h4v4h-4zM198 462h4v4h-4zM203 462h4v4h-4zM238 462h4v4h-4zM243 462h4v4h-4zM167 467h5v4h-5zM152 477h4v4h-4zM198 477h4v4h-4zM238 477h4v4h-4zM167 482h5v4h-5zM188 502h4v4h-4zM193 502h4v4h-4zM233 502h4v4h-4zM152 512h4v4h-4zM157 512h4v4h-4zM198 512h4v4h-4zM203 512h4v4h-4zM213 512h4v4h-4zM223 512h4v4h-4zM238 512h4v4h-4zM243 512h4v4h-4zM152 517h4v4h-4zM198 517h4v4h-4zM238 517h4v4h-4zM208 522h4v3h-4z"/>
<path fill="#b6cbd6" d="M188 186h4v4h-4zM152 221h4v4h-4zM198 221h4v4h-4zM188 226h4v4h-4zM193 226h4v4h-4zM233 226h4v4h-4zM152 236h4v4h-4zM198 236h4v4h-4zM238 236h4v4h-4zM243 236h4v4h-4zM152 241h4v4h-4zM157 241h4v4h-4zM183 241h4v4h-4zM198 241h4v4h-4zM203 241h4v4h-4zM213 241h4v4h-4zM223 241h4v4h-4zM238 241h4v4h-4zM243 241h4v4h-4zM157 266h4v4h-4zM198 266h4v4h-4zM238 266h4v4h-4zM173 271h4v4h-4zM178 271h4v4h-4zM183 271h4v4h-4zM218 271h4v4h-4zM152 286h4v4h-4zM157 286h4v4h-4zM183 286h4v4h-4zM198 286h4v4h-4zM203 286h4v4h-4zM213 286h4v4h-4zM223 286h4v4h-4zM238 286h4v4h-4zM243 286h4v4h-4zM188 311h4v4h-4zM233 311h4v4h-4zM193 316h4v4h-4zM228 316h4v4h-4zM152 326h4v4h-4zM183 326h4v4h-4zM198 326h4v4h-4zM203 326h4v4h-4zM238 326h4v4h-4zM228 356h4v4h-4zM152 361h4v4h-4zM198 361h4v4h-4zM203 361h4v4h-4zM238 361h4v4h-4zM243 361h4v4h-4zM228 376h4v4h-4zM233 376h4v4h-4zM188 391h4v4h-4zM193 391h4v4h-4zM233 391h4v4h-4zM188 396h4v4h-4zM193 396h4v4h-4zM188 422h4v4h-4zM193 422h4v4h-4zM228 422h4v4h-4zM157 427h4v4h-4zM162 427h4v4h-4zM173 427h4v4h-4zM178 427h4v4h-4zM218 427h4v4h-4zM193 432h4v4h-4zM228 432h4v4h-4zM152 457h4v4h-4zM157 457h4v4h-4zM183 457h4v4h-4zM198 457h4v4h-4zM203 457h4v4h-4zM213 457h4v4h-4zM223 457h4v4h-4zM238 457h4v4h-4zM243 457h4v4h-4zM162 462h4v4h-4zM173 462h4v4h-4zM178 462h4v4h-4zM183 462h4v4h-4zM213 462h4v4h-4zM218 462h4v4h-4zM223 462h4v4h-4zM152 467h4v4h-4zM198 467h4v4h-4zM238 467h4v4h-4zM157 477h4v4h-4zM162 477h4v4h-4zM183 477h4v4h-4zM203 477h4v4h-4zM213 477h4v4h-4zM223 477h4v4h-4zM243 477h4v4h-4zM152 492h4v4h-4zM157 492h4v4h-4zM183 492h4v4h-4zM198 492h4v4h-4zM203 492h4v4h-4zM213 492h4v4h-4zM223 492h4v4h-4zM238 492h4v4h-4zM243 492h4v4h-4zM152 497h4v4h-4zM228 502h4v4h-4zM162 512h4v4h-4zM173 512h4v4h-4zM178 512h4v4h-4zM183 512h4v4h-4zM218 512h4v4h-4zM157 517h4v4h-4zM162 517h4v4h-4zM178 517h4v4h-4zM183 517h4v4h-4zM203 517h4v4h-4zM213 517h4v4h-4zM218 517h4v4h-4zM223 517h4v4h-4zM243 517h4v4h-4z"/>
<path fill="#9ab9c8" d="M248 251h4v4h-4zM263 286h4v4h-4zM253 291h4v4h-4zM298 291h4v4h-4zM248 296h4v4h-4zM298 296h4v4h-4zM253 306h4v4h-4zM298 306h4v4h-4zM293 311h4v4h-4zM263 326h4v4h-4zM303 326h4v4h-4zM323 336h4v4h-4zM323 351h4v4h-4zM263 361h4v4h-4zM303 361h4v4h-4zM253 371h4v4h-4zM298 371h4v4h-4zM338 371h4v4h-4zM253 386h4v4h-4zM298 386h4v4h-4zM338 386h4v4h-4zM248 396h4v4h-4zM278 396h4v4h-4zM293 396h4v4h-4zM338 396h4v4h-4zM323 401h4v4h-4zM323 406h4v4h-4zM253 437h4v4h-4zM338 437h4v4h-4zM323 442h4v4h-4zM318 457h4v4h-4zM263 467h4v4h-4zM323 467h4v4h-4zM318 477h4v4h-4zM323 482h4v4h-4zM248 487h4v4h-4zM278 487h4v4h-4zM293 487h4v4h-4zM298 487h4v4h-4zM263 492h4v4h-4zM318 492h4v4h-4zM263 497h4v4h-4zM308 497h4v4h-4zM318 517h4v4h-4zM323 522h4v3h-4z"/>
<path fill="#b9cdd7" d="M253 251h4v4h-4zM263 271h4v4h-4zM283 291h4v4h-4zM253 296h4v4h-4zM283 306h4v4h-4zM248 311h4v4h-4zM253 311h4v4h-4zM278 311h4v4h-4zM298 311h4v4h-4zM293 316h4v4h-4zM308 326h4v4h-4zM323 326h4v4h-4zM328 336h4v4h-4zM283 346h4v4h-4zM328 351h4v4h-4zM278 356h4v4h-4zM308 361h4v4h-4zM323 361h4v4h-4zM283 371h4v4h-4zM248 376h4v4h-4zM278 376h4v4h-4zM293 376h4v4h-4zM338 376h4v4h-4zM283 386h4v4h-4zM248 391h4v4h-4zM253 391h4v4h-4zM278 391h4v4h-4zM293 391h4v4h-4zM298 391h4v4h-4zM338 391h4v4h-4zM253 396h4v4h-4zM283 396h4v4h-4zM298 396h4v4h-4zM328 401h4v4h-4zM328 406h4v4h-4zM278 422h4v4h-4zM298 422h4v4h-4zM318 427h4v4h-4zM283 437h4v4h-4zM328 442h4v4h-4zM263 457h4v4h-4zM303 457h4v4h-4zM308 457h4v4h-4zM323 457h4v4h-4zM318 462h4v4h-4zM328 467h4v4h-4zM263 477h4v4h-4zM303 477h4v4h-4zM308 477h4v4h-4zM328 482h4v4h-4zM253 487h4v4h-4zM338 487h4v4h-4zM303 492h4v4h-4zM308 492h4v4h-4zM323 492h4v4h-4zM323 497h4v4h-4zM328 497h4v4h-4zM278 502h4v4h-4zM293 502h4v4h-4zM263 512h4v4h-4zM303 512h4v4h-4zM318 512h4v4h-4zM263 517h4v4h-4zM303 517h4v4h-4zM308 517h4v4h-4zM323 517h4v4h-4zM328 522h4v3h-4z"/>
<path fill="#dbe4e8" d="M248 261h4v4h-4zM258 266h4v4h-4zM273 266h4v4h-4zM258 281h4v4h-4zM273 281h4v4h-4zM273 286h4v4h-4zM283 296h4v4h-4zM248 316h4v4h-4zM253 316h4v4h-4zM278 316h4v4h-4zM298 316h4v4h-4zM283 321h4v4h-4zM258 326h4v4h-4zM273 326h4v4h-4zM328 326h4v4h-4zM333 326h4v4h-4zM273 336h4v4h-4zM273 351h4v4h-4zM248 356h4v4h-4zM293 356h4v4h-4zM298 356h4v4h-4zM258 361h4v4h-4zM328 361h4v4h-4zM283 366h4v4h-4zM253 376h4v4h-4zM298 376h4v4h-4zM283 391h4v4h-4zM258 401h4v4h-4zM273 401h4v4h-4zM273 406h4v4h-4zM248 422h4v4h-4zM253 422h4v4h-4zM293 422h4v4h-4zM263 427h4v4h-4zM303 427h4v4h-4zM308 427h4v4h-4zM248 432h4v4h-4zM278 432h4v4h-4zM293 432h4v4h-4zM298 432h4v4h-4zM338 432h4v4h-4zM258 442h4v4h-4zM273 442h4v4h-4zM338 452h4v4h-4zM328 457h4v4h-4zM263 462h4v4h-4zM303 462h4v4h-4zM308 462h4v4h-4zM323 462h4v4h-4zM273 467h4v4h-4zM323 477h4v4h-4zM273 482h4v4h-4zM283 487h4v4h-4zM328 492h4v4h-4zM273 497h4v4h-4zM248 502h4v4h-4zM253 502h4v4h-4zM298 502h4v4h-4zM338 502h4v4h-4zM308 512h4v4h-4zM323 512h4v4h-4zM328 517h4v4h-4zM258 522h4v3h-4zM273 522h4v3h-4z"/>
<path fill="#7ba5b9" d="M263 266h4v4h-4zM263 281h4v4h-4zM248 291h4v4h-4zM278 291h4v4h-4zM293 291h4v4h-4zM278 296h4v4h-4zM293 296h4v4h-4zM248 306h4v4h-4zM278 306h4v4h-4zM318 326h4v4h-4zM263 336h4v4h-4zM303 336h4v4h-4zM308 336h4v4h-4zM318 336h4v4h-4zM248 346h4v4h-4zM253 346h4v4h-4zM298 346h4v4h-4zM338 346h4v4h-4zM263 351h4v4h-4zM303 351h4v4h-4zM308 351h4v4h-4zM318 361h4v4h-4zM248 371h4v4h-4zM278 371h4v4h-4zM293 371h4v4h-4zM248 386h4v4h-4zM278 386h4v4h-4zM293 386h4v4h-4zM263 401h4v4h-4zM303 401h4v4h-4zM308 401h4v4h-4zM263 406h4v4h-4zM303 406h4v4h-4zM308 406h4v4h-4zM318 406h4v4h-4zM248 437h4v4h-4zM278 437h4v4h-4zM293 437h4v4h-4zM298 437h4v4h-4zM263 442h4v4h-4zM303 442h4v4h-4zM308 442h4v4h-4zM303 467h4v4h-4zM308 467h4v4h-4zM318 467h4v4h-4zM263 482h4v4h-4zM303 482h4v4h-4zM308 482h4v4h-4zM303 497h4v4h-4zM318 497h4v4h-4zM263 522h4v3h-4zM303 522h4v3h-4zM308 522h4v3h-4z"/>
</g>
<g shape-rendering="crispEdges" fill="#d2d2d2">
<rect x="50" y="38" width="2" height="489"/>
<rect x="50" y="525" width="489" height="2"/>
</g>
<g class="tick">
<text transform="translate(38.7 46) scale(0.95 1)" text-anchor="end">0</text>
<text transform="translate(38.7 67) scale(0.95 1)" text-anchor="end">4</text>
<text transform="translate(38.7 87) scale(0.95 1)" text-anchor="end">8</text>
<text transform="translate(37.7 107) scale(0.95 1)" text-anchor="end">12</text>
<text transform="translate(37.7 127) scale(0.95 1)" text-anchor="end">16</text>
<text transform="translate(37.7 147) scale(0.95 1)" text-anchor="end">20</text>
<text transform="translate(37.7 167) scale(0.95 1)" text-anchor="end">24</text>
<text transform="translate(37.7 187) scale(0.95 1)" text-anchor="end">28</text>
<text transform="translate(37.7 207) scale(0.95 1)" text-anchor="end">32</text>
<text transform="translate(37.7 227) scale(0.95 1)" text-anchor="end">36</text>
<text transform="translate(37.7 247) scale(0.95 1)" text-anchor="end">40</text>
<text transform="translate(37.7 267) scale(0.95 1)" text-anchor="end">44</text>
<text transform="translate(37.7 287) scale(0.95 1)" text-anchor="end">48</text>
<text transform="translate(37.7 307) scale(0.95 1)" text-anchor="end">52</text>
<text transform="translate(37.7 327) scale(0.95 1)" text-anchor="end">56</text>
<text transform="translate(37.7 347) scale(0.95 1)" text-anchor="end">60</text>
<text transform="translate(37.7 367) scale(0.95 1)" text-anchor="end">64</text>
<text transform="translate(37.7 387) scale(0.95 1)" text-anchor="end">68</text>
<text transform="translate(37.7 407) scale(0.95 1)" text-anchor="end">72</text>
<text transform="translate(37.7 428) scale(0.95 1)" text-anchor="end">76</text>
<text transform="translate(37.7 448) scale(0.95 1)" text-anchor="end">80</text>
<text transform="translate(37.7 468) scale(0.95 1)" text-anchor="end">84</text>
<text transform="translate(37.7 488) scale(0.95 1)" text-anchor="end">88</text>
<text transform="translate(37.7 508) scale(0.95 1)" text-anchor="end">92</text>
<text transform="translate(37.7 528) scale(0.95 1)" text-anchor="end">96</text>
<text transform="translate(57.8 538.9) rotate(-90) scale(0.95 1)" text-anchor="end">0</text>
<text transform="translate(76.8 538.9) rotate(-90) scale(0.95 1)" text-anchor="end">4</text>
<text transform="translate(97.8 538.9) rotate(-90) scale(0.95 1)" text-anchor="end">8</text>
<text transform="translate(118.8 542.0) rotate(-90) scale(0.95 1)" text-anchor="end">12</text>
<text transform="translate(138.8 542.0) rotate(-90) scale(0.95 1)" text-anchor="end">16</text>
<text transform="translate(157.8 541.4) rotate(-90) scale(0.95 1)" text-anchor="end">20</text>
<text transform="translate(177.8 541.4) rotate(-90) scale(0.95 1)" text-anchor="end">24</text>
<text transform="translate(197.8 541.4) rotate(-90) scale(0.95 1)" text-anchor="end">28</text>
<text transform="translate(217.8 541.4) rotate(-90) scale(0.95 1)" text-anchor="end">32</text>
<text transform="translate(237.8 541.4) rotate(-90) scale(0.95 1)" text-anchor="end">36</text>
<text transform="translate(257.8 541.4) rotate(-90) scale(0.95 1)" text-anchor="end">40</text>
<text transform="translate(277.8 541.4) rotate(-90) scale(0.95 1)" text-anchor="end">44</text>
<text transform="translate(297.8 541.4) rotate(-90) scale(0.95 1)" text-anchor="end">48</text>
<text transform="translate(318.8 541.4) rotate(-90) scale(0.95 1)" text-anchor="end">52</text>
<text transform="translate(338.8 541.4) rotate(-90) scale(0.95 1)" text-anchor="end">56</text>
<text transform="translate(358.8 541.4) rotate(-90) scale(0.95 1)" text-anchor="end">60</text>
<text transform="translate(378.8 541.4) rotate(-90) scale(0.95 1)" text-anchor="end">64</text>
<text transform="translate(398.8 541.4) rotate(-90) scale(0.95 1)" text-anchor="end">68</text>
<text transform="translate(418.8 541.4) rotate(-90) scale(0.95 1)" text-anchor="end">72</text>
<text transform="translate(438.8 541.4) rotate(-90) scale(0.95 1)" text-anchor="end">76</text>
<text transform="translate(458.8 541.4) rotate(-90) scale(0.95 1)" text-anchor="end">80</text>
<text transform="translate(478.8 541.4) rotate(-90) scale(0.95 1)" text-anchor="end">84</text>
<text transform="translate(498.8 541.4) rotate(-90) scale(0.95 1)" text-anchor="end">88</text>
<text transform="translate(518.8 541.4) rotate(-90) scale(0.95 1)" text-anchor="end">92</text>
<text transform="translate(538.8 541.4) rotate(-90) scale(0.95 1)" text-anchor="end">96</text>
</g>
<g shape-rendering="crispEdges">
<rect x="580" y="161" width="11" height="242" fill="url(#cbg)"/>
<rect x="578" y="160" width="2" height="245" fill="#d2d2d2"/>
<rect x="578" y="403" width="14" height="2" fill="#d2d2d2"/>
</g>
<g class="tick" shape-rendering="crispEdges">
<rect x="591" y="184" width="9" height="2" fill="#424242"/>
<text transform="translate(604.0 191) scale(0.97 1)" style="letter-spacing:-0.3px">0.2</text>
<rect x="591" y="232" width="9" height="2" fill="#424242"/>
<text transform="translate(604.0 239) scale(0.97 1)" style="letter-spacing:-0.3px">0.0</text>
<rect x="591" y="280" width="9" height="2" fill="#424242"/>
<text transform="translate(604.0 287) scale(0.97 1)" style="letter-spacing:-0.3px">−0.2</text>
<rect x="591" y="329" width="9" height="2" fill="#424242"/>
<text transform="translate(604.0 336) scale(0.97 1)" style="letter-spacing:-0.3px">−0.4</text>
<rect x="591" y="377" width="9" height="2" fill="#424242"/>
<text transform="translate(604.0 384) scale(0.97 1)" style="letter-spacing:-0.3px">−0.6</text>
</g>
<path d="M0.5 0.5H650.5V576.5H0.5Z" fill="none" stroke="#000" stroke-width="1"/>
</svg>
</body>
</html>
